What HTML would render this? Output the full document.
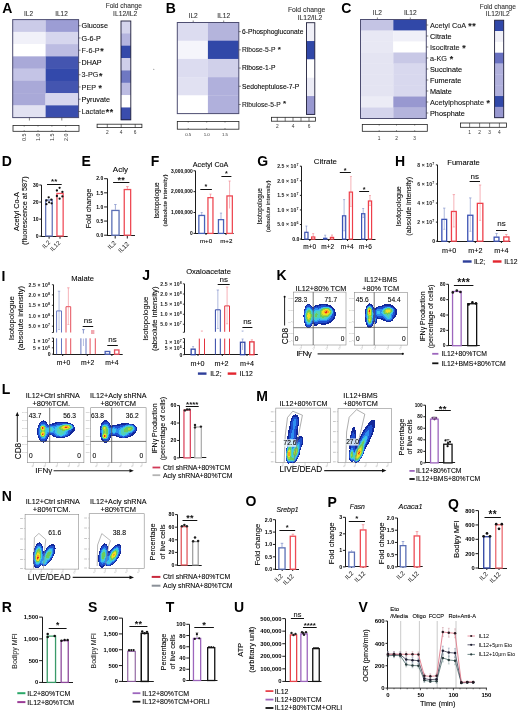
<!DOCTYPE html><html><head><meta charset="utf-8"><title>Figure</title><style>html,body{margin:0;padding:0;background:#fff;width:520px;height:713px;overflow:hidden}svg{display:block}text{font-family:"Liberation Sans",Arial,Helvetica,sans-serif}</style></head><body>
<svg width="520" height="713" viewBox="0 0 520 713">
<defs><filter id="fb" x="-20%" y="-20%" width="140%" height="140%"><feGaussianBlur stdDeviation="0.6"/></filter><filter id="jet" x="-30%" y="-30%" width="160%" height="160%" color-interpolation-filters="sRGB"><feGaussianBlur in="SourceAlpha" stdDeviation="0.7" result="b"/><feColorMatrix in="b" type="matrix" values="0 0 0 1 0  0 0 0 1 0  0 0 0 1 0  0 0 0 1 0" result="g"/><feComponentTransfer in="g" result="c"><feFuncR type="discrete" tableValues="0 0 0 0 0.078 0.078 0.078 0.078 0.122 0.122 0.122 0.122 0.122 0.180 0.180 0.180 0.180 0.235 0.235 0.235 0.235 0.322 0.322 0.322 0.322 0.424 0.424 0.424 0.424 0.424 0.424 0.667 0.667 0.667 0.667 0.667 0.949 0.949 0.949 0.949 0.949 0.949 0.973 0.973 0.973 0.973 0.910 0.910 0.910 0.910"/><feFuncG type="discrete" tableValues="0 0 0 0 0.157 0.157 0.157 0.157 0.314 0.314 0.314 0.314 0.314 0.557 0.557 0.557 0.557 0.769 0.769 0.769 0.769 0.824 0.824 0.824 0.824 0.800 0.800 0.800 0.800 0.800 0.800 0.847 0.847 0.847 0.847 0.847 0.878 0.878 0.878 0.878 0.878 0.878 0.643 0.643 0.643 0.643 0.165 0.165 0.165 0.165"/><feFuncB type="discrete" tableValues="0 0 0 0 0.604 0.604 0.604 0.604 0.816 0.816 0.816 0.816 0.816 0.941 0.941 0.941 0.941 0.933 0.933 0.933 0.933 0.706 0.706 0.706 0.706 0.361 0.361 0.361 0.361 0.361 0.361 0.227 0.227 0.227 0.227 0.227 0.133 0.133 0.133 0.133 0.133 0.133 0.133 0.133 0.133 0.133 0.102 0.102 0.102 0.102"/><feFuncA type="discrete" tableValues="0 0 0 0 1 1 1 1 1 1 1 1 1 1 1 1 1 1 1 1 1 1 1 1 1 1 1 1 1 1 1 1 1 1 1 1 1 1 1 1 1 1 1 1 1 1 1 1 1 1"/></feComponentTransfer><feGaussianBlur in="c" stdDeviation="0.35"/></filter><radialGradient id="gd"><stop offset="0" stop-color="#000" stop-opacity="1"/><stop offset="0.2" stop-color="#000" stop-opacity="0.906"/><stop offset="0.4" stop-color="#000" stop-opacity="0.674"/><stop offset="0.6" stop-color="#000" stop-opacity="0.411"/><stop offset="0.8" stop-color="#000" stop-opacity="0.206"/><stop offset="1" stop-color="#000" stop-opacity="0.0"/></radialGradient></defs>
<rect width="520" height="713" fill="#fff"/>
<text x="2.3" y="12.9" font-size="14" font-weight="bold" fill="#000">A</text>
<text x="28.5" y="16.47" font-size="6.4" text-anchor="middle" fill="#333" stroke="#333" stroke-width="0.1">IL2</text>
<text x="61.5" y="16.47" font-size="6.4" text-anchor="middle" fill="#333" stroke="#333" stroke-width="0.1">IL12</text>
<rect x="12.7" y="19.6" width="32.9" height="12.55" fill="#cbcbe8"/>
<rect x="45.6" y="19.6" width="33" height="12.55" fill="#9c9dd4"/>
<rect x="12.7" y="31.85" width="32.9" height="12.55" fill="#f1f1f9"/>
<rect x="45.6" y="31.85" width="33" height="12.55" fill="#d6d6ee"/>
<rect x="12.7" y="44.1" width="32.9" height="12.55" fill="#ffffff"/>
<rect x="45.6" y="44.1" width="33" height="12.55" fill="#bcbce2"/>
<rect x="12.7" y="56.35" width="32.9" height="12.55" fill="#a9a9d8"/>
<rect x="45.6" y="56.35" width="33" height="12.55" fill="#4455b0"/>
<rect x="12.7" y="68.6" width="32.9" height="12.55" fill="#c4c4e6"/>
<rect x="45.6" y="68.6" width="33" height="12.55" fill="#3349ab"/>
<rect x="12.7" y="80.85" width="32.9" height="12.55" fill="#a9a9d8"/>
<rect x="45.6" y="80.85" width="33" height="12.55" fill="#4455b0"/>
<rect x="12.7" y="93.1" width="32.9" height="12.55" fill="#a9a9d8"/>
<rect x="45.6" y="93.1" width="33" height="12.55" fill="#d6d6ee"/>
<rect x="12.7" y="105.35" width="32.9" height="12.55" fill="#e2e2f2"/>
<rect x="45.6" y="105.35" width="33" height="12.55" fill="#3a4dad"/>
<rect x="12.7" y="19.6" width="65.9" height="98" fill="none" stroke="#4e4e72" stroke-width="1"/>
<line x1="29.4" y1="117.6" x2="29.4" y2="120.5" stroke="#333" stroke-width="0.6"/>
<line x1="61.8" y1="117.6" x2="61.8" y2="120.5" stroke="#333" stroke-width="0.6"/>
<line x1="78.6" y1="25.73" x2="80.6" y2="25.73" stroke="#333" stroke-width="0.6"/>
<text x="81.6" y="28.28" font-size="7.2" stroke="#1a1a1a" stroke-width="0.1">Glucose</text>
<line x1="78.6" y1="37.98" x2="80.6" y2="37.98" stroke="#333" stroke-width="0.6"/>
<text x="81.6" y="40.53" font-size="7.2" stroke="#1a1a1a" stroke-width="0.1">G-6-P</text>
<line x1="78.6" y1="50.23" x2="80.6" y2="50.23" stroke="#333" stroke-width="0.6"/>
<text x="81.6" y="52.78" font-size="7.2" fill="#1a1a1a" stroke="#1a1a1a" stroke-width="0.1">F-6-P<tspan font-weight="bold" font-size="8.64" dy="1.3" dx="0.6" letter-spacing="0.6">*</tspan></text>
<line x1="78.6" y1="62.48" x2="80.6" y2="62.48" stroke="#333" stroke-width="0.6"/>
<text x="81.6" y="65.03" font-size="7.2" stroke="#1a1a1a" stroke-width="0.1">DHAP</text>
<line x1="78.6" y1="74.72" x2="80.6" y2="74.72" stroke="#333" stroke-width="0.6"/>
<text x="81.6" y="77.28" font-size="7.2" fill="#1a1a1a" stroke="#1a1a1a" stroke-width="0.1">3-PG<tspan font-weight="bold" font-size="8.64" dy="1.3" dx="0.6" letter-spacing="0.6">*</tspan></text>
<line x1="78.6" y1="86.97" x2="80.6" y2="86.97" stroke="#333" stroke-width="0.6"/>
<text x="81.6" y="89.53" font-size="7.2" fill="#1a1a1a" stroke="#1a1a1a" stroke-width="0.1">PEP <tspan font-weight="bold" font-size="8.64" dy="1.3" dx="0.6" letter-spacing="0.6">*</tspan></text>
<line x1="78.6" y1="99.22" x2="80.6" y2="99.22" stroke="#333" stroke-width="0.6"/>
<text x="81.6" y="101.78" font-size="7.2" stroke="#1a1a1a" stroke-width="0.1">Pyruvate</text>
<line x1="78.6" y1="111.47" x2="80.6" y2="111.47" stroke="#333" stroke-width="0.6"/>
<text x="81.6" y="114.03" font-size="7.2" fill="#1a1a1a" stroke="#1a1a1a" stroke-width="0.1">Lactate<tspan font-weight="bold" font-size="8.64" dy="1.3" dx="0.6" letter-spacing="0.6">**</tspan></text>
<text x="123.8" y="7.94" font-size="6.6" text-anchor="middle" fill="#333" stroke="#333" stroke-width="0.1">Fold change</text>
<text x="125.2" y="16.18" font-size="6.7" text-anchor="middle" fill="#333" stroke="#333" stroke-width="0.1">IL12/IL2</text>
<rect x="121" y="21" width="9.8" height="12.65" fill="#d4d4ec"/>
<rect x="121" y="33.35" width="9.8" height="12.65" fill="#b4b4de"/>
<rect x="121" y="45.7" width="9.8" height="12.65" fill="#3449a9"/>
<rect x="121" y="58.05" width="9.8" height="12.65" fill="#cfcfea"/>
<rect x="121" y="70.4" width="9.8" height="12.65" fill="#6f78c2"/>
<rect x="121" y="82.75" width="9.8" height="12.65" fill="#bcbce2"/>
<rect x="121" y="95.1" width="9.8" height="12.65" fill="#ffffff"/>
<rect x="121" y="107.45" width="9.8" height="12.65" fill="#3a4dad"/>
<rect x="121" y="21" width="9.8" height="98.8" fill="none" stroke="#1e1e3a" stroke-width="0.9"/>
<rect x="13" y="125.4" width="66" height="5.9" fill="#fff" stroke="#222" stroke-width="0.8"/>
<line x1="24.2" y1="125.4" x2="24.2" y2="126.6" stroke="#222" stroke-width="0.5"/>
<line x1="24.2" y1="130.1" x2="24.2" y2="131.3" stroke="#222" stroke-width="0.5"/>
<line x1="38" y1="125.4" x2="38" y2="126.6" stroke="#222" stroke-width="0.5"/>
<line x1="38" y1="130.1" x2="38" y2="131.3" stroke="#222" stroke-width="0.5"/>
<line x1="51.9" y1="125.4" x2="51.9" y2="126.6" stroke="#222" stroke-width="0.5"/>
<line x1="51.9" y1="130.1" x2="51.9" y2="131.3" stroke="#222" stroke-width="0.5"/>
<line x1="65.7" y1="125.4" x2="65.7" y2="126.6" stroke="#222" stroke-width="0.5"/>
<line x1="65.7" y1="130.1" x2="65.7" y2="131.3" stroke="#222" stroke-width="0.5"/>
<text x="26.099999999999998" y="133.6" font-size="5.4" text-anchor="end" fill="#333" transform="rotate(-90 26.099999999999998 133.6)">0.5</text>
<text x="39.9" y="133.6" font-size="5.4" text-anchor="end" fill="#333" transform="rotate(-90 39.9 133.6)">1.0</text>
<text x="53.8" y="133.6" font-size="5.4" text-anchor="end" fill="#333" transform="rotate(-90 53.8 133.6)">1.5</text>
<text x="67.60000000000001" y="133.6" font-size="5.4" text-anchor="end" fill="#333" transform="rotate(-90 67.60000000000001 133.6)">2.0</text>
<rect x="97.1" y="124.2" width="44.8" height="3.4" fill="#fff" stroke="#222" stroke-width="0.8"/>
<line x1="107.3" y1="124.2" x2="107.3" y2="127.6" stroke="#222" stroke-width="0.6"/>
<line x1="121.2" y1="124.2" x2="121.2" y2="127.6" stroke="#222" stroke-width="0.6"/>
<line x1="135.2" y1="124.2" x2="135.2" y2="127.6" stroke="#222" stroke-width="0.6"/>
<text x="107.3" y="134" font-size="4.8" text-anchor="middle" fill="#333">2</text>
<text x="121.2" y="134" font-size="4.8" text-anchor="middle" fill="#333">4</text>
<text x="135.2" y="134" font-size="4.8" text-anchor="middle" fill="#333">6</text>
<circle cx="153.8" cy="69.2" r="0.5" fill="#666"/>
<text x="165.8" y="12.6" font-size="14" font-weight="bold" fill="#000">B</text>
<text x="193.2" y="18.14" font-size="6.6" text-anchor="middle" fill="#333" stroke="#333" stroke-width="0.1">IL2</text>
<text x="223.7" y="18.14" font-size="6.6" text-anchor="middle" fill="#333" stroke="#333" stroke-width="0.1">IL12</text>
<line x1="193.2" y1="20.5" x2="193.2" y2="22.5" stroke="#333" stroke-width="0.6"/>
<line x1="223.7" y1="20.5" x2="223.7" y2="22.5" stroke="#333" stroke-width="0.6"/>
<rect x="177.3" y="22.5" width="30.6" height="18.52" fill="#dcdcf0"/>
<rect x="207.9" y="22.5" width="30.9" height="18.52" fill="#b4b4dc"/>
<rect x="177.3" y="40.72" width="30.6" height="18.52" fill="#f5f5fb"/>
<rect x="207.9" y="40.72" width="30.9" height="18.52" fill="#3148a8"/>
<rect x="177.3" y="58.94" width="30.6" height="18.52" fill="#dcdcf0"/>
<rect x="207.9" y="58.94" width="30.9" height="18.52" fill="#d0d0ea"/>
<rect x="177.3" y="77.16" width="30.6" height="18.52" fill="#e1e1f2"/>
<rect x="207.9" y="77.16" width="30.9" height="18.52" fill="#b0b0dc"/>
<rect x="177.3" y="95.38" width="30.6" height="18.52" fill="#ffffff"/>
<rect x="207.9" y="95.38" width="30.9" height="18.52" fill="#b0b0dc"/>
<rect x="177.3" y="22.5" width="61.5" height="91.1" fill="none" stroke="#4e4e72" stroke-width="1"/>
<line x1="238.8" y1="31.61" x2="240.8" y2="31.61" stroke="#333" stroke-width="0.6"/>
<text x="242" y="33.99" font-size="6.7" stroke="#1a1a1a" stroke-width="0.1">6-Phosphogluconate</text>
<line x1="238.8" y1="49.83" x2="240.8" y2="49.83" stroke="#333" stroke-width="0.6"/>
<text x="242" y="52.21" font-size="6.7" fill="#1a1a1a" stroke="#1a1a1a" stroke-width="0.1">Ribose-5-P <tspan font-weight="bold" font-size="8.04" dy="-0.6" dx="0.6" letter-spacing="0.6">*</tspan></text>
<line x1="238.8" y1="68.05" x2="240.8" y2="68.05" stroke="#333" stroke-width="0.6"/>
<text x="242" y="70.43" font-size="6.7" stroke="#1a1a1a" stroke-width="0.1">Ribose-1-P</text>
<line x1="238.8" y1="86.27" x2="240.8" y2="86.27" stroke="#333" stroke-width="0.6"/>
<text x="242" y="88.65" font-size="6.7" stroke="#1a1a1a" stroke-width="0.1">Sedoheptulose-7-P</text>
<line x1="238.8" y1="104.49" x2="240.8" y2="104.49" stroke="#333" stroke-width="0.6"/>
<text x="242" y="106.87" font-size="6.7" fill="#1a1a1a" stroke="#1a1a1a" stroke-width="0.1">Ribulose-5-P <tspan font-weight="bold" font-size="8.04" dy="-0.6" dx="0.6" letter-spacing="0.6">*</tspan></text>
<text x="306.6" y="11.61" font-size="6.8" text-anchor="middle" fill="#333" stroke="#333" stroke-width="0.1">Fold change</text>
<text x="310" y="20.11" font-size="6.8" text-anchor="middle" fill="#333" stroke="#333" stroke-width="0.1">IL12/IL2</text>
<rect x="306.5" y="22.7" width="8.3" height="18.64" fill="#f0f0f8"/>
<rect x="306.5" y="41.04" width="8.3" height="18.64" fill="#3148a8"/>
<rect x="306.5" y="59.38" width="8.3" height="18.64" fill="#ffffff"/>
<rect x="306.5" y="77.72" width="8.3" height="18.64" fill="#ececf6"/>
<rect x="306.5" y="96.06" width="8.3" height="18.64" fill="#9898d0"/>
<rect x="306.5" y="22.7" width="8.3" height="91.7" fill="none" stroke="#1e1e3a" stroke-width="0.9"/>
<rect x="177.3" y="121.4" width="61.6" height="7.8" fill="#fff" stroke="#222" stroke-width="0.8"/>
<line x1="188.2" y1="121.4" x2="188.2" y2="122.6" stroke="#222" stroke-width="0.5"/>
<line x1="188.2" y1="128" x2="188.2" y2="129.2" stroke="#222" stroke-width="0.5"/>
<line x1="206.7" y1="121.4" x2="206.7" y2="122.6" stroke="#222" stroke-width="0.5"/>
<line x1="206.7" y1="128" x2="206.7" y2="129.2" stroke="#222" stroke-width="0.5"/>
<line x1="225" y1="121.4" x2="225" y2="122.6" stroke="#222" stroke-width="0.5"/>
<line x1="225" y1="128" x2="225" y2="129.2" stroke="#222" stroke-width="0.5"/>
<text x="188.2" y="136.26" font-size="4.4" text-anchor="middle" fill="#333">0.5</text>
<text x="206.7" y="136.26" font-size="4.4" text-anchor="middle" fill="#333">1.0</text>
<text x="225" y="136.26" font-size="4.4" text-anchor="middle" fill="#333">1.5</text>
<rect x="271.5" y="117.3" width="43.9" height="3.9" fill="#fff" stroke="#222" stroke-width="0.8"/>
<line x1="277.3" y1="117.3" x2="277.3" y2="121.2" stroke="#222" stroke-width="0.6"/>
<line x1="285.2" y1="117.3" x2="285.2" y2="121.2" stroke="#222" stroke-width="0.6"/>
<line x1="293" y1="117.3" x2="293" y2="121.2" stroke="#222" stroke-width="0.6"/>
<line x1="301" y1="117.3" x2="301" y2="121.2" stroke="#222" stroke-width="0.6"/>
<line x1="309" y1="117.3" x2="309" y2="121.2" stroke="#222" stroke-width="0.6"/>
<text x="277.3" y="127.5" font-size="4.8" text-anchor="middle" fill="#333">2</text>
<text x="293" y="127.5" font-size="4.8" text-anchor="middle" fill="#333">4</text>
<text x="309" y="127.5" font-size="4.8" text-anchor="middle" fill="#333">6</text>
<text x="341.3" y="13.4" font-size="14" font-weight="bold" fill="#000">C</text>
<text x="377.4" y="15.34" font-size="6.6" text-anchor="middle" fill="#333" stroke="#333" stroke-width="0.1">IL2</text>
<text x="410.3" y="15.34" font-size="6.6" text-anchor="middle" fill="#333" stroke="#333" stroke-width="0.1">IL12</text>
<line x1="377.4" y1="17.5" x2="377.4" y2="19.5" stroke="#333" stroke-width="0.6"/>
<line x1="410.3" y1="17.5" x2="410.3" y2="19.5" stroke="#333" stroke-width="0.6"/>
<rect x="360.5" y="19.5" width="32.8" height="11.3" fill="#c4c4e4"/>
<rect x="393.3" y="19.5" width="33" height="11.3" fill="#3148a8"/>
<rect x="360.5" y="30.5" width="32.8" height="11.3" fill="#e8e8f4"/>
<rect x="393.3" y="30.5" width="33" height="11.3" fill="#f0f0f8"/>
<rect x="360.5" y="41.5" width="32.8" height="11.3" fill="#e8e8f4"/>
<rect x="393.3" y="41.5" width="33" height="11.3" fill="#ffffff"/>
<rect x="360.5" y="52.5" width="32.8" height="11.3" fill="#e4e4f2"/>
<rect x="393.3" y="52.5" width="33" height="11.3" fill="#c8c8e6"/>
<rect x="360.5" y="63.5" width="32.8" height="11.3" fill="#e4e4f2"/>
<rect x="393.3" y="63.5" width="33" height="11.3" fill="#d8d8ee"/>
<rect x="360.5" y="74.5" width="32.8" height="11.3" fill="#e4e4f2"/>
<rect x="393.3" y="74.5" width="33" height="11.3" fill="#d8d8ee"/>
<rect x="360.5" y="85.5" width="32.8" height="11.3" fill="#e4e4f2"/>
<rect x="393.3" y="85.5" width="33" height="11.3" fill="#d8d8ee"/>
<rect x="360.5" y="96.5" width="32.8" height="11.3" fill="#ececf6"/>
<rect x="393.3" y="96.5" width="33" height="11.3" fill="#9898d0"/>
<rect x="360.5" y="107.5" width="32.8" height="11.3" fill="#d4d4ec"/>
<rect x="393.3" y="107.5" width="33" height="11.3" fill="#b4b4dc"/>
<rect x="360.5" y="19.5" width="65.8" height="99" fill="none" stroke="#4e4e72" stroke-width="1"/>
<line x1="426.3" y1="25" x2="428.3" y2="25" stroke="#333" stroke-width="0.6"/>
<text x="430" y="27.59" font-size="7.3" fill="#1a1a1a" stroke="#1a1a1a" stroke-width="0.1">Acetyl CoA <tspan font-weight="bold" font-size="8.76" dy="1.1" dx="0.6" letter-spacing="0.6">**</tspan></text>
<line x1="426.3" y1="36" x2="428.3" y2="36" stroke="#333" stroke-width="0.6"/>
<text x="430" y="38.59" font-size="7.3" stroke="#1a1a1a" stroke-width="0.1">Citrate</text>
<line x1="426.3" y1="47" x2="428.3" y2="47" stroke="#333" stroke-width="0.6"/>
<text x="430" y="49.59" font-size="7.3" fill="#1a1a1a" stroke="#1a1a1a" stroke-width="0.1">Isocitrate <tspan font-weight="bold" font-size="8.76" dy="1.1" dx="0.6" letter-spacing="0.6">*</tspan></text>
<line x1="426.3" y1="58" x2="428.3" y2="58" stroke="#333" stroke-width="0.6"/>
<text x="430" y="60.59" font-size="7.3" fill="#1a1a1a" stroke="#1a1a1a" stroke-width="0.1">a-KG <tspan font-weight="bold" font-size="8.76" dy="1.1" dx="0.6" letter-spacing="0.6">*</tspan></text>
<line x1="426.3" y1="69" x2="428.3" y2="69" stroke="#333" stroke-width="0.6"/>
<text x="430" y="71.59" font-size="7.3" stroke="#1a1a1a" stroke-width="0.1">Succinate</text>
<line x1="426.3" y1="80" x2="428.3" y2="80" stroke="#333" stroke-width="0.6"/>
<text x="430" y="82.59" font-size="7.3" stroke="#1a1a1a" stroke-width="0.1">Fumerate</text>
<line x1="426.3" y1="91" x2="428.3" y2="91" stroke="#333" stroke-width="0.6"/>
<text x="430" y="93.59" font-size="7.3" stroke="#1a1a1a" stroke-width="0.1">Malate</text>
<line x1="426.3" y1="102" x2="428.3" y2="102" stroke="#333" stroke-width="0.6"/>
<text x="430" y="104.59" font-size="7.3" fill="#1a1a1a" stroke="#1a1a1a" stroke-width="0.1">Acetylphosphate <tspan font-weight="bold" font-size="8.76" dy="1.1" dx="0.6" letter-spacing="0.6">*</tspan></text>
<line x1="426.3" y1="113" x2="428.3" y2="113" stroke="#333" stroke-width="0.6"/>
<text x="430" y="115.59" font-size="7.3" stroke="#1a1a1a" stroke-width="0.1">Phosphate</text>
<text x="497.8" y="8.54" font-size="6.6" text-anchor="middle" fill="#333" stroke="#333" stroke-width="0.1">Fold change</text>
<text x="497.7" y="16.34" font-size="6.6" text-anchor="middle" fill="#333" stroke="#333" stroke-width="0.1">IL12/IL2</text>
<rect x="494.6" y="20.2" width="9.1" height="11.13" fill="#3148a8"/>
<rect x="494.6" y="31.03" width="9.1" height="11.13" fill="#f0f0f8"/>
<rect x="494.6" y="41.87" width="9.1" height="11.13" fill="#ffffff"/>
<rect x="494.6" y="52.7" width="9.1" height="11.13" fill="#6870c0"/>
<rect x="494.6" y="63.53" width="9.1" height="11.13" fill="#b0b0dc"/>
<rect x="494.6" y="74.37" width="9.1" height="11.13" fill="#b0b0dc"/>
<rect x="494.6" y="85.2" width="9.1" height="11.13" fill="#b0b0dc"/>
<rect x="494.6" y="96.03" width="9.1" height="11.13" fill="#3148a8"/>
<rect x="494.6" y="106.87" width="9.1" height="11.13" fill="#9898d0"/>
<rect x="494.6" y="20.2" width="9.1" height="97.5" fill="none" stroke="#1e1e3a" stroke-width="0.9"/>
<rect x="362.3" y="124.4" width="65" height="6.9" fill="#fff" stroke="#222" stroke-width="0.8"/>
<line x1="379.2" y1="124.4" x2="379.2" y2="125.6" stroke="#222" stroke-width="0.5"/>
<line x1="379.2" y1="130.1" x2="379.2" y2="131.3" stroke="#222" stroke-width="0.5"/>
<line x1="396.5" y1="124.4" x2="396.5" y2="125.6" stroke="#222" stroke-width="0.5"/>
<line x1="396.5" y1="130.1" x2="396.5" y2="131.3" stroke="#222" stroke-width="0.5"/>
<line x1="414.7" y1="124.4" x2="414.7" y2="125.6" stroke="#222" stroke-width="0.5"/>
<line x1="414.7" y1="130.1" x2="414.7" y2="131.3" stroke="#222" stroke-width="0.5"/>
<text x="379.2" y="139.6" font-size="4.8" text-anchor="middle" fill="#333">1</text>
<text x="396.5" y="139.6" font-size="4.8" text-anchor="middle" fill="#333">2</text>
<text x="414.7" y="139.6" font-size="4.8" text-anchor="middle" fill="#333">3</text>
<rect x="460.4" y="123" width="46.1" height="4.3" fill="#fff" stroke="#222" stroke-width="0.8"/>
<line x1="469.6" y1="123" x2="469.6" y2="127.3" stroke="#222" stroke-width="0.6"/>
<line x1="479.6" y1="123" x2="479.6" y2="127.3" stroke="#222" stroke-width="0.6"/>
<line x1="489.6" y1="123" x2="489.6" y2="127.3" stroke="#222" stroke-width="0.6"/>
<line x1="499.4" y1="123" x2="499.4" y2="127.3" stroke="#222" stroke-width="0.6"/>
<text x="469.6" y="133.7" font-size="4.8" text-anchor="middle" fill="#333">1</text>
<text x="479.6" y="133.7" font-size="4.8" text-anchor="middle" fill="#333">2</text>
<text x="489.6" y="133.7" font-size="4.8" text-anchor="middle" fill="#333">3</text>
<text x="499.4" y="133.7" font-size="4.8" text-anchor="middle" fill="#333">4</text>
<text x="1.8" y="166" font-size="14" font-weight="bold" fill="#000">D</text>
<line x1="41.5" y1="185" x2="41.5" y2="236" stroke="#1c1c1c" stroke-width="1"/>
<line x1="39.3" y1="185" x2="41.5" y2="185" stroke="#1c1c1c" stroke-width="1"/>
<text x="38.5" y="186.78" font-size="5" text-anchor="end" font-weight="bold">30</text>
<line x1="39.3" y1="202.07" x2="41.5" y2="202.07" stroke="#1c1c1c" stroke-width="1"/>
<text x="38.5" y="203.84" font-size="5" text-anchor="end" font-weight="bold">20</text>
<line x1="39.3" y1="219.13" x2="41.5" y2="219.13" stroke="#1c1c1c" stroke-width="1"/>
<text x="38.5" y="220.91" font-size="5" text-anchor="end" font-weight="bold">10</text>
<line x1="39.3" y1="236.2" x2="41.5" y2="236.2" stroke="#1c1c1c" stroke-width="1"/>
<text x="38.5" y="237.97" font-size="5" text-anchor="end" font-weight="bold">0</text>
<line x1="41" y1="236.5" x2="67.7" y2="236.5" stroke="#1c1c1c" stroke-width="1"/>
<line x1="49.1" y1="236.5" x2="49.1" y2="238.7" stroke="#1c1c1c" stroke-width="1"/>
<line x1="60" y1="236.5" x2="60" y2="238.7" stroke="#1c1c1c" stroke-width="1"/>
<rect x="45.65" y="200.05" width="6.6" height="35.95" fill="#fff" stroke="#6676b8" stroke-width="1.3"/>
<rect x="56.95" y="193.45" width="6.2" height="42.55" fill="#fff" stroke="#f04f5c" stroke-width="1.3"/>
<circle cx="48.7" cy="197.3" r="1.15" fill="#111"/>
<circle cx="46.4" cy="200.5" r="1.15" fill="#111"/>
<circle cx="51.4" cy="199.6" r="1.15" fill="#111"/>
<circle cx="46.4" cy="204.2" r="1.15" fill="#111"/>
<circle cx="51.6" cy="203.3" r="1.15" fill="#111"/>
<circle cx="49.1" cy="202.3" r="1.15" fill="#111"/>
<circle cx="59.6" cy="187.8" r="1.15" fill="#111"/>
<circle cx="56.9" cy="190.5" r="1.15" fill="#111"/>
<circle cx="62.4" cy="191.9" r="1.15" fill="#111"/>
<circle cx="56.9" cy="196" r="1.15" fill="#111"/>
<circle cx="62.4" cy="196.4" r="1.15" fill="#111"/>
<circle cx="59.6" cy="198.7" r="1.15" fill="#111"/>
<line x1="47" y1="184.5" x2="61.7" y2="184.5" stroke="#111" stroke-width="1"/>
<text x="54.35" y="184.16" font-size="7.8" text-anchor="middle" font-weight="bold" fill="#111" letter-spacing="0.2">**</text>
<text x="16.4" y="214.13" font-size="7.4" text-anchor="middle" stroke="#1a1a1a" stroke-width="0.1" transform="rotate(-90 16.4 211.5)">Acetyl Co-A</text>
<text x="24.6" y="213.29" font-size="7.3" text-anchor="middle" stroke="#1a1a1a" stroke-width="0.1" transform="rotate(-90 24.6 210.7)">(fluorescence at 587)</text>
<text x="50.6" y="242.8" font-size="6.2" text-anchor="end" transform="rotate(-45 50.6 242.8)" fill="#1a1a1a">IL2</text>
<text x="61" y="243.2" font-size="6.2" text-anchor="end" transform="rotate(-45 61 243.2)" fill="#1a1a1a">IL12</text>
<text x="81.5" y="166" font-size="14" font-weight="bold" fill="#000">E</text>
<text x="120.4" y="172.04" font-size="8" text-anchor="middle" stroke="#1a1a1a" stroke-width="0.1">Acly</text>
<line x1="107.5" y1="178.7" x2="107.5" y2="235.4" stroke="#1c1c1c" stroke-width="1"/>
<line x1="104.1" y1="178.7" x2="107.5" y2="178.7" stroke="#1c1c1c" stroke-width="1"/>
<text x="103.3" y="180.47" font-size="5" text-anchor="end" font-weight="bold">2.0</text>
<line x1="104.1" y1="192.82" x2="107.5" y2="192.82" stroke="#1c1c1c" stroke-width="1"/>
<text x="103.3" y="194.6" font-size="5" text-anchor="end" font-weight="bold">1.5</text>
<line x1="104.1" y1="206.95" x2="107.5" y2="206.95" stroke="#1c1c1c" stroke-width="1"/>
<text x="103.3" y="208.72" font-size="5" text-anchor="end" font-weight="bold">1.0</text>
<line x1="104.1" y1="221.07" x2="107.5" y2="221.07" stroke="#1c1c1c" stroke-width="1"/>
<text x="103.3" y="222.85" font-size="5" text-anchor="end" font-weight="bold">0.5</text>
<line x1="104.1" y1="235.2" x2="107.5" y2="235.2" stroke="#1c1c1c" stroke-width="1"/>
<text x="103.3" y="236.97" font-size="5" text-anchor="end" font-weight="bold">0.0</text>
<line x1="107" y1="235.5" x2="135" y2="235.5" stroke="#1c1c1c" stroke-width="1"/>
<line x1="115.2" y1="235.5" x2="115.2" y2="238.5" stroke="#1c1c1c" stroke-width="1"/>
<line x1="127.3" y1="235.5" x2="127.3" y2="238.5" stroke="#1c1c1c" stroke-width="1"/>
<g stroke="#6a7cc0" stroke-width="0.7" opacity="0.9"><line x1="115.4" y1="204.4" x2="115.4" y2="209.8"/><line x1="114.1" y1="204.4" x2="116.7" y2="204.4"/></g>
<g stroke="#ec6f78" stroke-width="0.7" opacity="0.9"><line x1="127.4" y1="186.6" x2="127.4" y2="188.9"/><line x1="126.1" y1="186.6" x2="128.7" y2="186.6"/></g>
<rect x="111.85" y="210.45" width="7.2" height="24.75" fill="#fff" stroke="#5b6fb5" stroke-width="1.3"/>
<rect x="124.25" y="189.55" width="6.4" height="45.65" fill="#fff" stroke="#ee4b55" stroke-width="1.3"/>
<line x1="113.1" y1="182.5" x2="129.4" y2="182.5" stroke="#111" stroke-width="1"/>
<text x="121.25" y="183.36" font-size="9" text-anchor="middle" font-weight="bold" fill="#111" letter-spacing="0.2">**</text>
<text x="88.3" y="211.06" font-size="7.2" text-anchor="middle" stroke="#1a1a1a" stroke-width="0.1" transform="rotate(-90 88.3 208.5)">Fold change</text>
<text x="116.6" y="243.4" font-size="6.4" text-anchor="end" transform="rotate(-45 116.6 243.4)" fill="#1a1a1a">IL2</text>
<text x="129.6" y="244.4" font-size="6.4" text-anchor="end" transform="rotate(-45 129.6 244.4)" fill="#1a1a1a">IL12</text>
<text x="150.8" y="166" font-size="14" font-weight="bold" fill="#000">F</text>
<text x="210.6" y="166.96" font-size="7.2" text-anchor="middle" stroke="#1a1a1a" stroke-width="0.1">Acetyl CoA</text>
<line x1="195.5" y1="170.8" x2="195.5" y2="233.4" stroke="#1c1c1c" stroke-width="1"/>
<line x1="193.5" y1="170.8" x2="195.5" y2="170.8" stroke="#1c1c1c" stroke-width="1"/>
<text x="192.7" y="172.54" font-size="4.9" text-anchor="end" font-weight="bold">3,000,000</text>
<line x1="193.5" y1="191.67" x2="195.5" y2="191.67" stroke="#1c1c1c" stroke-width="1"/>
<text x="192.7" y="193.41" font-size="4.9" text-anchor="end" font-weight="bold">2,000,000</text>
<line x1="193.5" y1="212.53" x2="195.5" y2="212.53" stroke="#1c1c1c" stroke-width="1"/>
<text x="192.7" y="214.27" font-size="4.9" text-anchor="end" font-weight="bold">1,000,000</text>
<line x1="193.5" y1="233.4" x2="195.5" y2="233.4" stroke="#1c1c1c" stroke-width="1"/>
<text x="192.7" y="235.14" font-size="4.9" text-anchor="end" font-weight="bold">0</text>
<line x1="195" y1="233.5" x2="233.6" y2="233.5" stroke="#1c1c1c" stroke-width="1"/>
<line x1="206" y1="233.5" x2="206" y2="235" stroke="#1c1c1c" stroke-width="1"/>
<line x1="226" y1="233.5" x2="226" y2="235" stroke="#1c1c1c" stroke-width="1"/>
<g stroke="#6a7cc0" stroke-width="0.6" opacity="0.9"><line x1="201.7" y1="212.3" x2="201.7" y2="217"/><line x1="200.6" y1="212.3" x2="202.8" y2="212.3"/></g>
<g stroke="#ec6f78" stroke-width="0.6" opacity="0.9"><line x1="210.5" y1="194.1" x2="210.5" y2="197"/><line x1="209.4" y1="194.1" x2="211.6" y2="194.1"/></g>
<g stroke="#6a7cc0" stroke-width="0.6" opacity="0.9"><line x1="221" y1="213.1" x2="221" y2="224"/><line x1="219.9" y1="213.1" x2="222.1" y2="213.1"/></g>
<g stroke="#ec6f78" stroke-width="0.6" opacity="0.9"><line x1="229.6" y1="181" x2="229.6" y2="208.5"/><line x1="228.5" y1="181" x2="230.7" y2="181"/></g>
<rect x="198.85" y="215.45" width="5.7" height="17.95" fill="#fff" stroke="#4a63b8" stroke-width="1.3"/>
<rect x="207.95" y="197.65" width="5" height="35.75" fill="#fff" stroke="#ee4b55" stroke-width="1.3"/>
<rect x="218.45" y="219.65" width="5.1" height="13.75" fill="#fff" stroke="#4a63b8" stroke-width="1.3"/>
<rect x="226.95" y="195.95" width="5.4" height="37.45" fill="#fff" stroke="#ee4b55" stroke-width="1.3"/>
<g stroke="#ec6f78" stroke-width="0.6" opacity="0.9"><line x1="229.6" y1="195.3" x2="229.6" y2="208.5"/><line x1="228.5" y1="195.3" x2="230.7" y2="195.3"/></g>
<line x1="200.3" y1="189.5" x2="211.9" y2="189.5" stroke="#111" stroke-width="1"/>
<text x="206.1" y="188.81" font-size="7.2" text-anchor="middle" font-weight="bold" fill="#111" letter-spacing="0.2">*</text>
<line x1="221.4" y1="176.5" x2="231.4" y2="176.5" stroke="#111" stroke-width="1"/>
<text x="226.4" y="176.31" font-size="7.2" text-anchor="middle" font-weight="bold" fill="#111" letter-spacing="0.2">*</text>
<text x="206" y="242.8" font-size="6.2" text-anchor="middle" stroke="#1a1a1a" stroke-width="0.1">m+0</text>
<text x="226.3" y="242.8" font-size="6.2" text-anchor="middle" stroke="#1a1a1a" stroke-width="0.1">m+2</text>
<text x="156.6" y="202.74" font-size="6.3" text-anchor="middle" stroke="#1a1a1a" stroke-width="0.1" transform="rotate(-90 156.6 200.5)">Isotopologue</text>
<text x="165.2" y="202.7" font-size="6.2" text-anchor="middle" stroke="#1a1a1a" stroke-width="0.1" transform="rotate(-90 165.2 200.5)">(absolute intensity)</text>
<text x="257.3" y="166" font-size="14" font-weight="bold" fill="#000">G</text>
<text x="325.4" y="164.3" font-size="7.9" text-anchor="middle" stroke="#1a1a1a" stroke-width="0.1">Citrate</text>
<line x1="301.5" y1="166.2" x2="301.5" y2="239.1" stroke="#1c1c1c" stroke-width="1"/>
<line x1="299.9" y1="166.2" x2="301.5" y2="166.2" stroke="#1c1c1c" stroke-width="1"/>
<line x1="299.9" y1="180.78" x2="301.5" y2="180.78" stroke="#1c1c1c" stroke-width="1"/>
<line x1="299.9" y1="195.36" x2="301.5" y2="195.36" stroke="#1c1c1c" stroke-width="1"/>
<line x1="299.9" y1="209.94" x2="301.5" y2="209.94" stroke="#1c1c1c" stroke-width="1"/>
<line x1="299.9" y1="224.52" x2="301.5" y2="224.52" stroke="#1c1c1c" stroke-width="1"/>
<line x1="299.9" y1="239.1" x2="301.5" y2="239.1" stroke="#1c1c1c" stroke-width="1"/>
<text x="298.6" y="168" font-size="5.1" text-anchor="end" font-weight="bold" fill="#1a1a1a" letter-spacing="0.1">2.5 × 10<tspan font-size="3.6" dy="-1.9">7</tspan></text>
<text x="298.6" y="182.58" font-size="5.1" text-anchor="end" font-weight="bold" fill="#1a1a1a" letter-spacing="0.1">2.0 × 10<tspan font-size="3.6" dy="-1.9">7</tspan></text>
<text x="298.6" y="197.16" font-size="5.1" text-anchor="end" font-weight="bold" fill="#1a1a1a" letter-spacing="0.1">1.5 × 10<tspan font-size="3.6" dy="-1.9">7</tspan></text>
<text x="298.6" y="211.74" font-size="5.1" text-anchor="end" font-weight="bold" fill="#1a1a1a" letter-spacing="0.1">1.0 × 10<tspan font-size="3.6" dy="-1.9">7</tspan></text>
<text x="298.6" y="226.32" font-size="5.1" text-anchor="end" font-weight="bold" fill="#1a1a1a" letter-spacing="0.1">5.0 × 10<tspan font-size="3.6" dy="-1.9">6</tspan></text>
<text x="299.4" y="240.91" font-size="5.1" text-anchor="end" font-weight="bold">0.0</text>
<line x1="301" y1="239.5" x2="375.5" y2="239.5" stroke="#1c1c1c" stroke-width="1"/>
<line x1="309.8" y1="239.5" x2="309.8" y2="241" stroke="#1c1c1c" stroke-width="1"/>
<line x1="328.6" y1="239.5" x2="328.6" y2="241" stroke="#1c1c1c" stroke-width="1"/>
<line x1="347.5" y1="239.5" x2="347.5" y2="241" stroke="#1c1c1c" stroke-width="1"/>
<line x1="366.6" y1="239.5" x2="366.6" y2="241" stroke="#1c1c1c" stroke-width="1"/>
<g stroke="#6a7cc0" stroke-width="0.6" opacity="0.9"><line x1="306.4" y1="226" x2="306.4" y2="238"/><line x1="305.4" y1="226" x2="307.4" y2="226"/></g>
<g stroke="#ec6f78" stroke-width="0.6" opacity="0.9"><line x1="313.2" y1="233.6" x2="313.2" y2="238"/><line x1="312.2" y1="233.6" x2="314.2" y2="233.6"/></g>
<rect x="304.8" y="232.3" width="3.2" height="6.8" fill="#fff" stroke="#3b52b3" stroke-width="1.2"/>
<rect x="311.6" y="237" width="3.2" height="2.1" fill="#fff" stroke="#ee3f4a" stroke-width="1.2"/>
<g stroke="#6a7cc0" stroke-width="0.6" opacity="0.9"><line x1="325.2" y1="235.2" x2="325.2" y2="238"/><line x1="324.2" y1="235.2" x2="326.2" y2="235.2"/></g>
<g stroke="#ec6f78" stroke-width="0.6" opacity="0.9"><line x1="332" y1="235" x2="332" y2="238"/><line x1="331" y1="235" x2="333" y2="235"/></g>
<rect x="323.6" y="238.3" width="3.2" height="0.8" fill="#fff" stroke="#3b52b3" stroke-width="1.2"/>
<rect x="330.4" y="237.4" width="3.2" height="1.7" fill="#fff" stroke="#ee3f4a" stroke-width="1.2"/>
<g stroke="#6a7cc0" stroke-width="0.6" opacity="0.9"><line x1="344.1" y1="199.6" x2="344.1" y2="223.2"/><line x1="343.1" y1="199.6" x2="345.1" y2="199.6"/></g>
<g stroke="#ec6f78" stroke-width="0.6" opacity="0.9"><line x1="350.9" y1="176.3" x2="350.9" y2="199.5"/><line x1="349.9" y1="176.3" x2="351.9" y2="176.3"/></g>
<rect x="342.5" y="215.8" width="3.2" height="23.3" fill="#fff" stroke="#3b52b3" stroke-width="1.2"/>
<rect x="349.3" y="192.1" width="3.2" height="47" fill="#fff" stroke="#ee3f4a" stroke-width="1.2"/>
<g stroke="#6a7cc0" stroke-width="0.5" opacity="0.9"><line x1="344.1" y1="230.8" x2="344.1" y2="215.2"/><line x1="343.3" y1="230.8" x2="344.9" y2="230.8"/></g>
<g stroke="#ec6f78" stroke-width="0.5" opacity="0.9"><line x1="350.9" y1="206.7" x2="350.9" y2="191.5"/><line x1="350.1" y1="206.7" x2="351.7" y2="206.7"/></g>
<g stroke="#6a7cc0" stroke-width="0.6" opacity="0.9"><line x1="363.2" y1="208.5" x2="363.2" y2="221.1"/><line x1="362.2" y1="208.5" x2="364.2" y2="208.5"/></g>
<g stroke="#ec6f78" stroke-width="0.6" opacity="0.9"><line x1="370" y1="195.3" x2="370" y2="208.4"/><line x1="369" y1="195.3" x2="371" y2="195.3"/></g>
<rect x="361.6" y="213.7" width="3.2" height="25.4" fill="#fff" stroke="#3b52b3" stroke-width="1.2"/>
<rect x="368.4" y="201" width="3.2" height="38.1" fill="#fff" stroke="#ee3f4a" stroke-width="1.2"/>
<g stroke="#6a7cc0" stroke-width="0.5" opacity="0.9"><line x1="363.2" y1="217.7" x2="363.2" y2="213.1"/><line x1="362.4" y1="217.7" x2="364" y2="217.7"/></g>
<g stroke="#ec6f78" stroke-width="0.5" opacity="0.9"><line x1="370" y1="205.5" x2="370" y2="200.4"/><line x1="369.2" y1="205.5" x2="370.8" y2="205.5"/></g>
<line x1="339.8" y1="172.5" x2="350.8" y2="172.5" stroke="#111" stroke-width="1"/>
<text x="345.3" y="172.61" font-size="7.2" text-anchor="middle" font-weight="bold" fill="#111" letter-spacing="0.2">*</text>
<line x1="359.2" y1="191.5" x2="369.1" y2="191.5" stroke="#111" stroke-width="1"/>
<text x="364.15" y="191.61" font-size="7.2" text-anchor="middle" font-weight="bold" fill="#111" letter-spacing="0.2">*</text>
<text x="309.6" y="249.31" font-size="6.5" text-anchor="middle" stroke="#1a1a1a" stroke-width="0.1">m+0</text>
<text x="327.7" y="249.31" font-size="6.5" text-anchor="middle" stroke="#1a1a1a" stroke-width="0.1">m+2</text>
<text x="347.2" y="249.31" font-size="6.5" text-anchor="middle" stroke="#1a1a1a" stroke-width="0.1">m+4</text>
<text x="365.4" y="249.31" font-size="6.5" text-anchor="middle" stroke="#1a1a1a" stroke-width="0.1">m+6</text>
<text x="259.4" y="208.54" font-size="6.3" text-anchor="middle" stroke="#1a1a1a" stroke-width="0.1" transform="rotate(-90 259.4 206.3)">Isotopologue</text>
<text x="268.3" y="208.5" font-size="6.2" text-anchor="middle" stroke="#1a1a1a" stroke-width="0.1" transform="rotate(-90 268.3 206.3)">(absolute intensity)</text>
<text x="395" y="166" font-size="14" font-weight="bold" fill="#000">H</text>
<text x="463.5" y="164.6" font-size="7.6" text-anchor="middle" stroke="#1a1a1a" stroke-width="0.1">Fumarate</text>
<line x1="437.5" y1="164.9" x2="437.5" y2="241.2" stroke="#1c1c1c" stroke-width="1"/>
<line x1="435.9" y1="164.9" x2="437.5" y2="164.9" stroke="#1c1c1c" stroke-width="1"/>
<line x1="435.9" y1="183.97" x2="437.5" y2="183.97" stroke="#1c1c1c" stroke-width="1"/>
<line x1="435.9" y1="203.05" x2="437.5" y2="203.05" stroke="#1c1c1c" stroke-width="1"/>
<line x1="435.9" y1="222.12" x2="437.5" y2="222.12" stroke="#1c1c1c" stroke-width="1"/>
<line x1="435.9" y1="241.2" x2="437.5" y2="241.2" stroke="#1c1c1c" stroke-width="1"/>
<text x="434.3" y="166.7" font-size="5.1" text-anchor="end" font-weight="bold" fill="#1a1a1a" letter-spacing="0.1">8 × 10<tspan font-size="3.6" dy="-1.9">7</tspan></text>
<text x="434.3" y="185.78" font-size="5.1" text-anchor="end" font-weight="bold" fill="#1a1a1a" letter-spacing="0.1">6 × 10<tspan font-size="3.6" dy="-1.9">7</tspan></text>
<text x="434.3" y="204.85" font-size="5.1" text-anchor="end" font-weight="bold" fill="#1a1a1a" letter-spacing="0.1">4 × 10<tspan font-size="3.6" dy="-1.9">7</tspan></text>
<text x="434.3" y="223.93" font-size="5.1" text-anchor="end" font-weight="bold" fill="#1a1a1a" letter-spacing="0.1">2 × 10<tspan font-size="3.6" dy="-1.9">7</tspan></text>
<text x="435" y="243.01" font-size="5.1" text-anchor="end" font-weight="bold">0</text>
<line x1="437" y1="241.5" x2="510.4" y2="241.5" stroke="#1c1c1c" stroke-width="1"/>
<line x1="449.2" y1="241.5" x2="449.2" y2="243" stroke="#1c1c1c" stroke-width="1"/>
<line x1="475.3" y1="241.5" x2="475.3" y2="243" stroke="#1c1c1c" stroke-width="1"/>
<line x1="501.4" y1="241.5" x2="501.4" y2="243" stroke="#1c1c1c" stroke-width="1"/>
<g stroke="#6a7cc0" stroke-width="0.6" opacity="0.9"><line x1="444.25" y1="208.1" x2="444.25" y2="218.7"/><line x1="443.05" y1="208.1" x2="445.45" y2="208.1"/></g>
<rect x="441.85" y="219.35" width="4.8" height="21.85" fill="#fff" stroke="#3b52b3" stroke-width="1.3"/>
<g stroke="#6a7cc0" stroke-width="0.5" opacity="0.9"><line x1="444.25" y1="229.3" x2="444.25" y2="218.7"/><line x1="443.25" y1="229.3" x2="445.25" y2="229.3"/></g>
<g stroke="#ec6f78" stroke-width="0.6" opacity="0.9"><line x1="453.85" y1="194.6" x2="453.85" y2="210.8"/><line x1="452.65" y1="194.6" x2="455.05" y2="194.6"/></g>
<rect x="451.45" y="211.45" width="4.8" height="29.75" fill="#fff" stroke="#ee3f4a" stroke-width="1.3"/>
<g stroke="#ec6f78" stroke-width="0.5" opacity="0.9"><line x1="453.85" y1="227" x2="453.85" y2="210.8"/><line x1="452.85" y1="227" x2="454.85" y2="227"/></g>
<g stroke="#6a7cc0" stroke-width="0.6" opacity="0.9"><line x1="470.3" y1="197.9" x2="470.3" y2="214.6"/><line x1="469.1" y1="197.9" x2="471.5" y2="197.9"/></g>
<rect x="467.75" y="215.25" width="5.1" height="25.95" fill="#fff" stroke="#3b52b3" stroke-width="1.3"/>
<g stroke="#6a7cc0" stroke-width="0.5" opacity="0.9"><line x1="470.3" y1="231.3" x2="470.3" y2="214.6"/><line x1="469.3" y1="231.3" x2="471.3" y2="231.3"/></g>
<g stroke="#ec6f78" stroke-width="0.6" opacity="0.9"><line x1="480.1" y1="185" x2="480.1" y2="202.7"/><line x1="478.9" y1="185" x2="481.3" y2="185"/></g>
<rect x="477.35" y="203.35" width="5.5" height="37.85" fill="#fff" stroke="#ee3f4a" stroke-width="1.3"/>
<g stroke="#ec6f78" stroke-width="0.5" opacity="0.9"><line x1="480.1" y1="220.4" x2="480.1" y2="202.7"/><line x1="479.1" y1="220.4" x2="481.1" y2="220.4"/></g>
<g stroke="#6a7cc0" stroke-width="0.6" opacity="0.9"><line x1="496.55" y1="233.5" x2="496.55" y2="236.5"/><line x1="495.35" y1="233.5" x2="497.75" y2="233.5"/></g>
<rect x="494.15" y="237.15" width="4.8" height="4.05" fill="#fff" stroke="#3b52b3" stroke-width="1.3"/>
<g stroke="#ec6f78" stroke-width="0.6" opacity="0.9"><line x1="506.35" y1="234.5" x2="506.35" y2="236.3"/><line x1="505.15" y1="234.5" x2="507.55" y2="234.5"/></g>
<rect x="503.75" y="236.95" width="5.2" height="4.25" fill="#fff" stroke="#ee3f4a" stroke-width="1.3"/>
<line x1="469.6" y1="181.5" x2="480" y2="181.5" stroke="#111" stroke-width="1"/>
<text x="474.8" y="178.78" font-size="8" text-anchor="middle" fill="#111" stroke="#111" stroke-width="0.1">ns</text>
<line x1="496" y1="230.5" x2="506.9" y2="230.5" stroke="#111" stroke-width="1"/>
<text x="501.45" y="226.08" font-size="8" text-anchor="middle" fill="#111" stroke="#111" stroke-width="0.1">ns</text>
<text x="449.2" y="252.76" font-size="7.2" text-anchor="middle" stroke="#1a1a1a" stroke-width="0.1">m+0</text>
<text x="475.3" y="252.76" font-size="7.2" text-anchor="middle" stroke="#1a1a1a" stroke-width="0.1">m+2</text>
<text x="501.4" y="252.76" font-size="7.2" text-anchor="middle" stroke="#1a1a1a" stroke-width="0.1">m+4</text>
<text x="398.1" y="208.79" font-size="7" text-anchor="middle" stroke="#1a1a1a" stroke-width="0.1" transform="rotate(-90 398.1 206.3)">Isotopologue</text>
<text x="408.7" y="208.79" font-size="7" text-anchor="middle" stroke="#1a1a1a" stroke-width="0.1" transform="rotate(-90 408.7 206.3)">(absolute intensity)</text>
<line x1="462.8" y1="261.5" x2="471.6" y2="261.5" stroke="#2e3f9a" stroke-width="2.4"/>
<text x="473.9" y="263.91" font-size="6.8" stroke="#1a1a1a" stroke-width="0.1">IL2;</text>
<line x1="492.8" y1="261.5" x2="501.5" y2="261.5" stroke="#e3262f" stroke-width="2.4"/>
<text x="504.3" y="263.91" font-size="6.8" stroke="#1a1a1a" stroke-width="0.1">IL12</text>
<text x="1.6" y="280.6" font-size="14" font-weight="bold" fill="#000">I</text>
<text x="82.7" y="281.3" font-size="7.6" text-anchor="middle" stroke="#1a1a1a" stroke-width="0.1">Malate</text>
<line x1="53.5" y1="284.7" x2="53.5" y2="332.5" stroke="#1c1c1c" stroke-width="1"/>
<line x1="53.5" y1="338.1" x2="53.5" y2="354.2" stroke="#1c1c1c" stroke-width="1"/>
<line x1="53.5" y1="332.5" x2="51.9" y2="332.5" stroke="#1c1c1c" stroke-width="0.8"/>
<line x1="53.5" y1="338.1" x2="51.9" y2="338.1" stroke="#1c1c1c" stroke-width="0.8"/>
<line x1="51.9" y1="284.7" x2="53.5" y2="284.7" stroke="#1c1c1c" stroke-width="0.8"/>
<text x="50" y="286.5" font-size="5.1" text-anchor="end" font-weight="bold" fill="#1a1a1a" letter-spacing="0.1">2.5 × 10<tspan font-size="3.6" dy="-1.9">8</tspan></text>
<line x1="51.9" y1="294.9" x2="53.5" y2="294.9" stroke="#1c1c1c" stroke-width="0.8"/>
<text x="50" y="296.7" font-size="5.1" text-anchor="end" font-weight="bold" fill="#1a1a1a" letter-spacing="0.1">2.0 × 10<tspan font-size="3.6" dy="-1.9">8</tspan></text>
<line x1="51.9" y1="305.3" x2="53.5" y2="305.3" stroke="#1c1c1c" stroke-width="0.8"/>
<text x="50" y="307.1" font-size="5.1" text-anchor="end" font-weight="bold" fill="#1a1a1a" letter-spacing="0.1">1.5 × 10<tspan font-size="3.6" dy="-1.9">8</tspan></text>
<line x1="51.9" y1="315.8" x2="53.5" y2="315.8" stroke="#1c1c1c" stroke-width="0.8"/>
<text x="50" y="317.6" font-size="5.1" text-anchor="end" font-weight="bold" fill="#1a1a1a" letter-spacing="0.1">1.0 × 10<tspan font-size="3.6" dy="-1.9">8</tspan></text>
<line x1="51.9" y1="326.2" x2="53.5" y2="326.2" stroke="#1c1c1c" stroke-width="0.8"/>
<text x="50" y="328" font-size="5.1" text-anchor="end" font-weight="bold" fill="#1a1a1a" letter-spacing="0.1">5.0 × 10<tspan font-size="3.6" dy="-1.9">7</tspan></text>
<line x1="51.9" y1="341.4" x2="53.5" y2="341.4" stroke="#1c1c1c" stroke-width="0.8"/>
<text x="50" y="343.2" font-size="5.1" text-anchor="end" font-weight="bold" fill="#1a1a1a" letter-spacing="0.1">1 × 10<tspan font-size="3.6" dy="-1.9">7</tspan></text>
<line x1="51.9" y1="347.8" x2="53.5" y2="347.8" stroke="#1c1c1c" stroke-width="0.8"/>
<text x="50" y="349.6" font-size="5.1" text-anchor="end" font-weight="bold" fill="#1a1a1a" letter-spacing="0.1">5 × 10<tspan font-size="3.6" dy="-1.9">6</tspan></text>
<line x1="51.9" y1="354.2" x2="53.5" y2="354.2" stroke="#1c1c1c" stroke-width="0.8"/>
<text x="50.5" y="356.01" font-size="5.1" text-anchor="end" font-weight="bold">0</text>
<line x1="53" y1="354.5" x2="122.7" y2="354.5" stroke="#1c1c1c" stroke-width="1"/>
<line x1="62.7" y1="354.5" x2="62.7" y2="356" stroke="#1c1c1c" stroke-width="1"/>
<line x1="87.3" y1="354.5" x2="87.3" y2="356" stroke="#1c1c1c" stroke-width="1"/>
<line x1="111.9" y1="354.5" x2="111.9" y2="356" stroke="#1c1c1c" stroke-width="1"/>
<g stroke="#6a7cc0" stroke-width="0.6" opacity="0.9"><line x1="59.05" y1="291.2" x2="59.05" y2="310.4"/><line x1="57.85" y1="291.2" x2="60.25" y2="291.2"/></g>
<path d="M56.6 332.5 V310.9 H61.5 V332.5" fill="#fff" stroke="#6677c0" stroke-width="1"/>
<path d="M56.6 338.3 V354.2 M61.5 338.3 V354.2" fill="none" stroke="#6677c0" stroke-width="1"/>
<g stroke="#6a7cc0" stroke-width="0.5" opacity="0.9"><line x1="59.05" y1="329.6" x2="59.05" y2="310.4"/><line x1="58.05" y1="329.6" x2="60.05" y2="329.6"/></g>
<g stroke="#ec6f78" stroke-width="0.6" opacity="0.9"><line x1="68.35" y1="287.8" x2="68.35" y2="306.2"/><line x1="67.15" y1="287.8" x2="69.55" y2="287.8"/></g>
<path d="M66 332.5 V306.7 H70.7 V332.5" fill="#fff" stroke="#e5505c" stroke-width="1"/>
<path d="M66 338.3 V354.2 M70.7 338.3 V354.2" fill="none" stroke="#e5505c" stroke-width="1"/>
<g stroke="#ec6f78" stroke-width="0.5" opacity="0.9"><line x1="68.35" y1="324.6" x2="68.35" y2="306.2"/><line x1="67.35" y1="324.6" x2="69.35" y2="324.6"/></g>
<path d="M80.9 338.3 V354.2 M86 338.3 V354.2" fill="none" stroke="#6677c0" stroke-width="1"/>
<path d="M90.1 338.3 V354.2 M95.3 338.3 V354.2" fill="none" stroke="#e5505c" stroke-width="1"/>
<g stroke="#6a7cc0" stroke-width="0.8" opacity="1"><line x1="83.4" y1="329.6" x2="83.4" y2="333.5"/><line x1="82.1" y1="329.6" x2="84.7" y2="329.6"/></g>
<line x1="91" y1="331" x2="94.4" y2="331" stroke="#e04050" stroke-width="0.9"/>
<line x1="91" y1="333" x2="94.4" y2="333" stroke="#e04050" stroke-width="0.9"/>
<line x1="83.45" y1="338.6" x2="83.45" y2="346" stroke="#6a7cc0" stroke-width="0.5"/>
<rect x="105.15" y="351.45" width="4.6" height="2.75" fill="#fff" stroke="#4a60b5" stroke-width="1.3"/>
<rect x="114.55" y="349.95" width="4.4" height="4.25" fill="#fff" stroke="#e5505c" stroke-width="1.3"/>
<line x1="82.7" y1="326.5" x2="93.2" y2="326.5" stroke="#111" stroke-width="1"/>
<text x="87.95" y="322.78" font-size="8" text-anchor="middle" fill="#111" stroke="#111" stroke-width="0.1">ns</text>
<line x1="107.3" y1="345.5" x2="117.8" y2="345.5" stroke="#111" stroke-width="1"/>
<text x="112.55" y="342.08" font-size="8" text-anchor="middle" fill="#111" stroke="#111" stroke-width="0.1">ns</text>
<text x="63.5" y="365.11" font-size="6.8" text-anchor="middle" stroke="#1a1a1a" stroke-width="0.1">m+0</text>
<text x="87.6" y="365.11" font-size="6.8" text-anchor="middle" stroke="#1a1a1a" stroke-width="0.1">m+2</text>
<text x="111.9" y="365.11" font-size="6.8" text-anchor="middle" stroke="#1a1a1a" stroke-width="0.1">m+4</text>
<text x="11.6" y="320.93" font-size="7.7" text-anchor="middle" stroke="#1a1a1a" stroke-width="0.1" transform="rotate(-90 11.6 318.2)">Isotopologue</text>
<text x="20.6" y="320.93" font-size="7.7" text-anchor="middle" stroke="#1a1a1a" stroke-width="0.1" transform="rotate(-90 20.6 318.2)">(absolute intensity)</text>
<text x="142.2" y="280" font-size="14" font-weight="bold" fill="#000">J</text>
<text x="208.5" y="274.3" font-size="7.6" text-anchor="middle" stroke="#1a1a1a" stroke-width="0.1">Oxaloacetate</text>
<line x1="184.5" y1="283.8" x2="184.5" y2="332.3" stroke="#1c1c1c" stroke-width="1"/>
<line x1="184.5" y1="338.5" x2="184.5" y2="354.7" stroke="#1c1c1c" stroke-width="1"/>
<line x1="184.5" y1="332.3" x2="182.9" y2="332.3" stroke="#1c1c1c" stroke-width="0.8"/>
<line x1="184.5" y1="338.5" x2="182.9" y2="338.5" stroke="#1c1c1c" stroke-width="0.8"/>
<line x1="182.9" y1="283.8" x2="184.5" y2="283.8" stroke="#1c1c1c" stroke-width="0.8"/>
<text x="181.8" y="285.6" font-size="5.1" text-anchor="end" font-weight="bold" fill="#1a1a1a" letter-spacing="0.1">2.5 × 10<tspan font-size="3.6" dy="-1.9">8</tspan></text>
<line x1="182.9" y1="294" x2="184.5" y2="294" stroke="#1c1c1c" stroke-width="0.8"/>
<text x="181.8" y="295.8" font-size="5.1" text-anchor="end" font-weight="bold" fill="#1a1a1a" letter-spacing="0.1">2.0 × 10<tspan font-size="3.6" dy="-1.9">8</tspan></text>
<line x1="182.9" y1="304.2" x2="184.5" y2="304.2" stroke="#1c1c1c" stroke-width="0.8"/>
<text x="181.8" y="306" font-size="5.1" text-anchor="end" font-weight="bold" fill="#1a1a1a" letter-spacing="0.1">1.5 × 10<tspan font-size="3.6" dy="-1.9">8</tspan></text>
<line x1="182.9" y1="314.3" x2="184.5" y2="314.3" stroke="#1c1c1c" stroke-width="0.8"/>
<text x="181.8" y="316.1" font-size="5.1" text-anchor="end" font-weight="bold" fill="#1a1a1a" letter-spacing="0.1">1.0 × 10<tspan font-size="3.6" dy="-1.9">8</tspan></text>
<line x1="182.9" y1="324.3" x2="184.5" y2="324.3" stroke="#1c1c1c" stroke-width="0.8"/>
<text x="181.8" y="326.1" font-size="5.1" text-anchor="end" font-weight="bold" fill="#1a1a1a" letter-spacing="0.1">5.0 × 10<tspan font-size="3.6" dy="-1.9">7</tspan></text>
<line x1="182.9" y1="342.2" x2="184.5" y2="342.2" stroke="#1c1c1c" stroke-width="0.8"/>
<text x="181.8" y="344" font-size="5.1" text-anchor="end" font-weight="bold" fill="#1a1a1a" letter-spacing="0.1">1 × 10<tspan font-size="3.6" dy="-1.9">7</tspan></text>
<line x1="182.9" y1="348.5" x2="184.5" y2="348.5" stroke="#1c1c1c" stroke-width="0.8"/>
<text x="181.8" y="350.3" font-size="5.1" text-anchor="end" font-weight="bold" fill="#1a1a1a" letter-spacing="0.1">5 × 10<tspan font-size="3.6" dy="-1.9">6</tspan></text>
<line x1="182.9" y1="354.7" x2="184.5" y2="354.7" stroke="#1c1c1c" stroke-width="0.8"/>
<text x="182.3" y="356.51" font-size="5.1" text-anchor="end" font-weight="bold">0</text>
<line x1="184" y1="354.5" x2="257.8" y2="354.5" stroke="#1c1c1c" stroke-width="1"/>
<line x1="198" y1="354.5" x2="198" y2="356" stroke="#1c1c1c" stroke-width="1"/>
<line x1="222.3" y1="354.5" x2="222.3" y2="356" stroke="#1c1c1c" stroke-width="1"/>
<line x1="247" y1="354.5" x2="247" y2="356" stroke="#1c1c1c" stroke-width="1"/>
<rect x="191.15" y="349.15" width="4" height="5.55" fill="#fff" stroke="#2f45a6" stroke-width="1.3"/>
<g stroke="#6a7cc0" stroke-width="0.6" opacity="0.9"><line x1="193.1" y1="346.3" x2="193.1" y2="348.5"/><line x1="192.1" y1="346.3" x2="194.1" y2="346.3"/></g>
<path d="M199.3 338.6 V354.7 M204.5 338.6 V354.7" fill="none" stroke="#e3333f" stroke-width="1"/>
<g stroke="#ec6f78" stroke-width="0.6" opacity="0.9"><line x1="201.9" y1="331" x2="201.9" y2="331.4"/><line x1="200.9" y1="331" x2="202.9" y2="331"/></g>
<g stroke="#6a7cc0" stroke-width="0.6" opacity="0.9"><line x1="217.85" y1="290" x2="217.85" y2="309.3"/><line x1="216.65" y1="290" x2="219.05" y2="290"/></g>
<path d="M215.4 331.8 V309.8 H220.3 V331.8" fill="#fff" stroke="#2f45a6" stroke-width="1"/>
<path d="M215.4 338.6 V354.7 M220.3 338.6 V354.7" fill="none" stroke="#2f45a6" stroke-width="1"/>
<g stroke="#6a7cc0" stroke-width="0.5" opacity="0.9"><line x1="217.85" y1="328.6" x2="217.85" y2="309.3"/><line x1="216.85" y1="328.6" x2="218.85" y2="328.6"/></g>
<g stroke="#ec6f78" stroke-width="0.6" opacity="0.9"><line x1="227.1" y1="287" x2="227.1" y2="305.4"/><line x1="225.9" y1="287" x2="228.3" y2="287"/></g>
<path d="M224.7 331.8 V305.9 H229.5 V331.8" fill="#fff" stroke="#e3333f" stroke-width="1"/>
<path d="M224.7 338.6 V354.7 M229.5 338.6 V354.7" fill="none" stroke="#e3333f" stroke-width="1"/>
<g stroke="#ec6f78" stroke-width="0.5" opacity="0.9"><line x1="227.1" y1="323.8" x2="227.1" y2="305.4"/><line x1="226.1" y1="323.8" x2="228.1" y2="323.8"/></g>
<rect x="240.45" y="342.25" width="4.4" height="12.45" fill="#fff" stroke="#2f45a6" stroke-width="1.3"/>
<rect x="249.65" y="341.85" width="4.4" height="12.85" fill="#fff" stroke="#e3333f" stroke-width="1.3"/>
<g stroke="#6a7cc0" stroke-width="0.6" opacity="0.9"><line x1="242.6" y1="339" x2="242.6" y2="350"/><line x1="241.6" y1="339" x2="243.6" y2="339"/></g>
<g stroke="#ec6f78" stroke-width="0.6" opacity="0.9"><line x1="251.9" y1="339.8" x2="251.9" y2="341.2"/><line x1="250.8" y1="339.8" x2="253" y2="339.8"/></g>
<g stroke="#6a7cc0" stroke-width="0.6" opacity="0.9"><line x1="242.6" y1="331" x2="242.6" y2="331.4"/><line x1="241.6" y1="331" x2="243.6" y2="331"/></g>
<line x1="217.7" y1="284.5" x2="229.7" y2="284.5" stroke="#111" stroke-width="1"/>
<text x="223.7" y="281.78" font-size="8" text-anchor="middle" fill="#111" stroke="#111" stroke-width="0.1">ns</text>
<line x1="242.4" y1="327.5" x2="252.4" y2="327.5" stroke="#111" stroke-width="1"/>
<text x="247.4" y="324.28" font-size="8" text-anchor="middle" fill="#111" stroke="#111" stroke-width="0.1">ns</text>
<text x="197.5" y="365.56" font-size="7.2" text-anchor="middle" stroke="#1a1a1a" stroke-width="0.1">m+0</text>
<text x="221.5" y="365.56" font-size="7.2" text-anchor="middle" stroke="#1a1a1a" stroke-width="0.1">m+2</text>
<text x="247" y="365.56" font-size="7.2" text-anchor="middle" stroke="#1a1a1a" stroke-width="0.1">m+4</text>
<text x="145.6" y="321.53" font-size="7.7" text-anchor="middle" stroke="#1a1a1a" stroke-width="0.1" transform="rotate(-90 145.6 318.8)">Isotopologue</text>
<text x="154.6" y="321.53" font-size="7.7" text-anchor="middle" stroke="#1a1a1a" stroke-width="0.1" transform="rotate(-90 154.6 318.8)">(absolute intensity)</text>
<line x1="197.9" y1="373.6" x2="206.5" y2="373.6" stroke="#2e3f9a" stroke-width="2.4"/>
<text x="210.2" y="376.01" font-size="6.8" stroke="#1a1a1a" stroke-width="0.1">IL2;</text>
<line x1="227.7" y1="373.6" x2="236.3" y2="373.6" stroke="#e3262f" stroke-width="2.4"/>
<text x="239.6" y="376.01" font-size="6.8" stroke="#1a1a1a" stroke-width="0.1">IL12</text>
<text x="276.6" y="280.4" font-size="14" font-weight="bold" fill="#000">K</text>
<text x="321" y="290.69" font-size="7.3" text-anchor="middle" stroke="#1a1a1a" stroke-width="0.1">IL12+80% TCM</text>
<text x="380.7" y="281.69" font-size="7" text-anchor="middle" stroke="#1a1a1a" stroke-width="0.1">IL12+BMS</text>
<text x="380.6" y="290.63" font-size="7.4" text-anchor="middle" stroke="#1a1a1a" stroke-width="0.1">+80% TCM</text>
<rect x="293.5" y="292.1" width="52.5" height="52.9" fill="#fff" stroke="#8a8a8a" stroke-width="0.6"/>
<line x1="292.3" y1="298.5" x2="293.5" y2="298.5" stroke="#999" stroke-width="0.4"/>
<text x="291.9" y="299.3" font-size="2.4" text-anchor="end" fill="#aaa">10<tspan font-size="1.8" dy="-0.8">3</tspan></text>
<line x1="292.3" y1="310.5" x2="293.5" y2="310.5" stroke="#999" stroke-width="0.4"/>
<text x="291.9" y="311.3" font-size="2.4" text-anchor="end" fill="#aaa">10<tspan font-size="1.8" dy="-0.8">3</tspan></text>
<line x1="292.3" y1="322" x2="293.5" y2="322" stroke="#999" stroke-width="0.4"/>
<text x="291.9" y="322.8" font-size="2.4" text-anchor="end" fill="#aaa">10<tspan font-size="1.8" dy="-0.8">3</tspan></text>
<line x1="292.3" y1="333.5" x2="293.5" y2="333.5" stroke="#999" stroke-width="0.4"/>
<text x="291.9" y="334.3" font-size="2.4" text-anchor="end" fill="#aaa">10<tspan font-size="1.8" dy="-0.8">3</tspan></text>
<line x1="292.3" y1="341" x2="293.5" y2="341" stroke="#999" stroke-width="0.4"/>
<text x="291.9" y="341.8" font-size="2.4" text-anchor="end" fill="#aaa">10<tspan font-size="1.8" dy="-0.8">3</tspan></text>
<line x1="301.5" y1="345" x2="301.5" y2="346.2" stroke="#999" stroke-width="0.4"/>
<text x="301.5" y="348.6" font-size="2.4" text-anchor="middle" fill="#aaa" transform="rotate(-45 301.5 348.6)">10<tspan font-size="1.8" dy="-0.8">3</tspan></text>
<line x1="314.5" y1="345" x2="314.5" y2="346.2" stroke="#999" stroke-width="0.4"/>
<text x="314.5" y="348.6" font-size="2.4" text-anchor="middle" fill="#aaa" transform="rotate(-45 314.5 348.6)">10<tspan font-size="1.8" dy="-0.8">3</tspan></text>
<line x1="327.5" y1="345" x2="327.5" y2="346.2" stroke="#999" stroke-width="0.4"/>
<text x="327.5" y="348.6" font-size="2.4" text-anchor="middle" fill="#aaa" transform="rotate(-45 327.5 348.6)">10<tspan font-size="1.8" dy="-0.8">3</tspan></text>
<line x1="340" y1="345" x2="340" y2="346.2" stroke="#999" stroke-width="0.4"/>
<text x="340" y="348.6" font-size="2.4" text-anchor="middle" fill="#aaa" transform="rotate(-45 340 348.6)">10<tspan font-size="1.8" dy="-0.8">3</tspan></text>
<g filter="url(#jet)">
<ellipse cx="308.7" cy="316" rx="5.8" ry="13.4" fill="url(#gd)" fill-opacity="0.82"/>
<ellipse cx="323.5" cy="314.2" rx="14" ry="12" fill="url(#gd)" fill-opacity="0.62" transform="rotate(-4 323.5 314.2)"/>
<ellipse cx="326.6" cy="311.8" rx="7.5" ry="5.5" fill="url(#gd)" fill-opacity="0.9" transform="rotate(-5 326.6 311.8)"/>
<ellipse cx="315.5" cy="316.5" rx="4" ry="12.5" fill="url(#gd)" fill-opacity="0.35"/>
</g>
<line x1="313.2" y1="292.1" x2="313.2" y2="345" stroke="#555" stroke-width="0.8"/>
<line x1="293.5" y1="327.7" x2="346" y2="327.7" stroke="#555" stroke-width="0.8"/>
<text x="294.4" y="302.04" font-size="6.6" stroke="#1a1a1a" stroke-width="0.1">28.3</text>
<text x="337.3" y="302.04" font-size="6.6" text-anchor="end" stroke="#1a1a1a" stroke-width="0.1">71.7</text>
<text x="294.8" y="341.14" font-size="6.6" stroke="#1a1a1a" stroke-width="0.1">0</text>
<text x="344.5" y="341.14" font-size="6.6" text-anchor="end" stroke="#1a1a1a" stroke-width="0.1">0</text>
<rect x="354.3" y="292.3" width="53.4" height="52.8" fill="#fff" stroke="#8a8a8a" stroke-width="0.6"/>
<line x1="353.1" y1="298.5" x2="354.3" y2="298.5" stroke="#999" stroke-width="0.4"/>
<text x="352.7" y="299.3" font-size="2.4" text-anchor="end" fill="#aaa">10<tspan font-size="1.8" dy="-0.8">3</tspan></text>
<line x1="353.1" y1="310.5" x2="354.3" y2="310.5" stroke="#999" stroke-width="0.4"/>
<text x="352.7" y="311.3" font-size="2.4" text-anchor="end" fill="#aaa">10<tspan font-size="1.8" dy="-0.8">3</tspan></text>
<line x1="353.1" y1="322" x2="354.3" y2="322" stroke="#999" stroke-width="0.4"/>
<text x="352.7" y="322.8" font-size="2.4" text-anchor="end" fill="#aaa">10<tspan font-size="1.8" dy="-0.8">3</tspan></text>
<line x1="353.1" y1="333.5" x2="354.3" y2="333.5" stroke="#999" stroke-width="0.4"/>
<text x="352.7" y="334.3" font-size="2.4" text-anchor="end" fill="#aaa">10<tspan font-size="1.8" dy="-0.8">3</tspan></text>
<line x1="353.1" y1="341" x2="354.3" y2="341" stroke="#999" stroke-width="0.4"/>
<text x="352.7" y="341.8" font-size="2.4" text-anchor="end" fill="#aaa">10<tspan font-size="1.8" dy="-0.8">3</tspan></text>
<line x1="362.5" y1="345.1" x2="362.5" y2="346.3" stroke="#999" stroke-width="0.4"/>
<text x="362.5" y="348.7" font-size="2.4" text-anchor="middle" fill="#aaa" transform="rotate(-45 362.5 348.7)">10<tspan font-size="1.8" dy="-0.8">3</tspan></text>
<line x1="375.5" y1="345.1" x2="375.5" y2="346.3" stroke="#999" stroke-width="0.4"/>
<text x="375.5" y="348.7" font-size="2.4" text-anchor="middle" fill="#aaa" transform="rotate(-45 375.5 348.7)">10<tspan font-size="1.8" dy="-0.8">3</tspan></text>
<line x1="388.5" y1="345.1" x2="388.5" y2="346.3" stroke="#999" stroke-width="0.4"/>
<text x="388.5" y="348.7" font-size="2.4" text-anchor="middle" fill="#aaa" transform="rotate(-45 388.5 348.7)">10<tspan font-size="1.8" dy="-0.8">3</tspan></text>
<line x1="401" y1="345.1" x2="401" y2="346.3" stroke="#999" stroke-width="0.4"/>
<text x="401" y="348.7" font-size="2.4" text-anchor="middle" fill="#aaa" transform="rotate(-45 401 348.7)">10<tspan font-size="1.8" dy="-0.8">3</tspan></text>
<g filter="url(#jet)">
<ellipse cx="369.8" cy="315.8" rx="5.8" ry="14.2" fill="url(#gd)" fill-opacity="0.62"/>
<ellipse cx="369.4" cy="311.2" rx="3.4" ry="6" fill="url(#gd)" fill-opacity="0.92"/>
<ellipse cx="369.6" cy="320.5" rx="2.8" ry="5" fill="url(#gd)" fill-opacity="0.5"/>
<ellipse cx="387" cy="312.5" rx="12" ry="10" fill="url(#gd)" fill-opacity="0.5" transform="rotate(-5 387 312.5)"/>
<ellipse cx="388.3" cy="310.8" rx="6.5" ry="4" fill="url(#gd)" fill-opacity="0.7" transform="rotate(-10 388.3 310.8)"/>
<ellipse cx="389" cy="318.5" rx="5" ry="5" fill="url(#gd)" fill-opacity="0.25"/>
<ellipse cx="377.5" cy="312.5" rx="5" ry="8" fill="url(#gd)" fill-opacity="0.3"/>
<ellipse cx="375.6" cy="320" rx="1.6" ry="6" fill="url(#gd)" fill-opacity="0.28"/>
</g>
<line x1="374.2" y1="292.3" x2="374.2" y2="345.1" stroke="#555" stroke-width="0.8"/>
<line x1="354.3" y1="327.4" x2="407.7" y2="327.4" stroke="#555" stroke-width="0.8"/>
<text x="355.8" y="302.04" font-size="6.6" stroke="#1a1a1a" stroke-width="0.1">45.6</text>
<text x="400.6" y="302.04" font-size="6.6" text-anchor="end" stroke="#1a1a1a" stroke-width="0.1">54.4</text>
<text x="356" y="341.14" font-size="6.6" stroke="#1a1a1a" stroke-width="0.1">0</text>
<text x="405.7" y="341.14" font-size="6.6" text-anchor="end" stroke="#1a1a1a" stroke-width="0.1">0</text>
<text x="284.8" y="338.91" font-size="8.2" text-anchor="middle" stroke="#1a1a1a" stroke-width="0.1" transform="rotate(-90 284.8 336)">CD8</text>
<line x1="284.6" y1="296.5" x2="284.6" y2="325.5" stroke="#222" stroke-width="1"/>
<circle cx="284.6" cy="296.8" r="1" fill="#111"/>
<text x="296.4" y="355.84" font-size="8" letter-spacing="-0.5" stroke="#1a1a1a" stroke-width="0.1">IFNγ</text>
<line x1="317.6" y1="353.8" x2="402.5" y2="353.8" stroke="#333" stroke-width="1.2"/>
<circle cx="402.8" cy="353.8" r="1.1" fill="#111"/>
<line x1="448.5" y1="284.3" x2="448.5" y2="345.7" stroke="#1c1c1c" stroke-width="1"/>
<line x1="446.3" y1="284.3" x2="448.5" y2="284.3" stroke="#1c1c1c" stroke-width="1"/>
<text x="445.5" y="286.04" font-size="4.9" text-anchor="end" font-weight="bold">80</text>
<line x1="446.3" y1="299.65" x2="448.5" y2="299.65" stroke="#1c1c1c" stroke-width="1"/>
<text x="445.5" y="301.39" font-size="4.9" text-anchor="end" font-weight="bold">60</text>
<line x1="446.3" y1="315" x2="448.5" y2="315" stroke="#1c1c1c" stroke-width="1"/>
<text x="445.5" y="316.74" font-size="4.9" text-anchor="end" font-weight="bold">40</text>
<line x1="446.3" y1="330.35" x2="448.5" y2="330.35" stroke="#1c1c1c" stroke-width="1"/>
<text x="445.5" y="332.09" font-size="4.9" text-anchor="end" font-weight="bold">20</text>
<line x1="446.3" y1="345.7" x2="448.5" y2="345.7" stroke="#1c1c1c" stroke-width="1"/>
<text x="445.5" y="347.44" font-size="4.9" text-anchor="end" font-weight="bold">0</text>
<line x1="448" y1="345.5" x2="479.8" y2="345.5" stroke="#1c1c1c" stroke-width="1"/>
<rect x="452.55" y="291.47" width="8.6" height="54.23" fill="#fff" stroke="#9d66bd" stroke-width="1.3"/>
<rect x="467.75" y="303.75" width="8.9" height="41.95" fill="#fff" stroke="#111111" stroke-width="1.3"/>
<circle cx="452.8" cy="292.4" r="1.3" fill="#1a1a1a"/>
<circle cx="456.8" cy="290.6" r="1.3" fill="#1a1a1a"/>
<circle cx="460.4" cy="292" r="1.3" fill="#1a1a1a"/>
<circle cx="468.6" cy="304.4" r="1.3" fill="#111"/>
<circle cx="472.4" cy="302.4" r="1.3" fill="#111"/>
<circle cx="476" cy="303.4" r="1.3" fill="#111"/>
<line x1="453.9" y1="285.5" x2="473.4" y2="285.5" stroke="#111" stroke-width="1"/>
<text x="463.65" y="286.14" font-size="10.5" text-anchor="middle" font-weight="bold" fill="#111" letter-spacing="0.2">***</text>
<text x="422.9" y="318.99" font-size="7" text-anchor="middle" stroke="#1a1a1a" stroke-width="0.1" transform="rotate(-90 422.9 316.5)">IFNγ Production</text>
<text x="430.9" y="318.99" font-size="7" text-anchor="middle" stroke="#1a1a1a" stroke-width="0.1" transform="rotate(-90 430.9 316.5)">(percentage of cells)</text>
<line x1="432.2" y1="353.8" x2="438.4" y2="353.8" stroke="#9d66bd" stroke-width="1.8"/>
<text x="441.4" y="355.91" font-size="6.8" stroke="#1a1a1a" stroke-width="0.1">IL12+80%TCM</text>
<line x1="432.2" y1="363.3" x2="438.4" y2="363.3" stroke="#111111" stroke-width="1.8"/>
<text x="441.4" y="366.11" font-size="6.8" stroke="#1a1a1a" stroke-width="0.1">IL12+BMS+80%TCM</text>
<text x="1.8" y="393.6" font-size="14" font-weight="bold" fill="#000">L</text>
<text x="52.8" y="397.76" font-size="7.2" text-anchor="middle" stroke="#1a1a1a" stroke-width="0.1">IL12+Ctrl shRNA</text>
<text x="51.3" y="406.06" font-size="7.5" text-anchor="middle" stroke="#1a1a1a" stroke-width="0.1">+80%TCM.</text>
<text x="118.3" y="397.76" font-size="7.2" text-anchor="middle" stroke="#1a1a1a" stroke-width="0.1">IL12+Acly shRNA</text>
<text x="118.3" y="405.86" font-size="7.5" text-anchor="middle" stroke="#1a1a1a" stroke-width="0.1">+80%TCM</text>
<rect x="27.3" y="407.7" width="56.6" height="55" fill="#fff" stroke="#8a8a8a" stroke-width="0.6"/>
<line x1="26.1" y1="412.5" x2="27.3" y2="412.5" stroke="#999" stroke-width="0.4"/>
<text x="25.7" y="413.3" font-size="2.4" text-anchor="end" fill="#aaa">10<tspan font-size="1.8" dy="-0.8">3</tspan></text>
<line x1="26.1" y1="420.5" x2="27.3" y2="420.5" stroke="#999" stroke-width="0.4"/>
<text x="25.7" y="421.3" font-size="2.4" text-anchor="end" fill="#aaa">10<tspan font-size="1.8" dy="-0.8">3</tspan></text>
<line x1="26.1" y1="428.5" x2="27.3" y2="428.5" stroke="#999" stroke-width="0.4"/>
<text x="25.7" y="429.3" font-size="2.4" text-anchor="end" fill="#aaa">10<tspan font-size="1.8" dy="-0.8">3</tspan></text>
<line x1="26.1" y1="436.5" x2="27.3" y2="436.5" stroke="#999" stroke-width="0.4"/>
<text x="25.7" y="437.3" font-size="2.4" text-anchor="end" fill="#aaa">10<tspan font-size="1.8" dy="-0.8">3</tspan></text>
<line x1="26.1" y1="444.5" x2="27.3" y2="444.5" stroke="#999" stroke-width="0.4"/>
<text x="25.7" y="445.3" font-size="2.4" text-anchor="end" fill="#aaa">10<tspan font-size="1.8" dy="-0.8">3</tspan></text>
<line x1="26.1" y1="452.5" x2="27.3" y2="452.5" stroke="#999" stroke-width="0.4"/>
<text x="25.7" y="453.3" font-size="2.4" text-anchor="end" fill="#aaa">10<tspan font-size="1.8" dy="-0.8">3</tspan></text>
<line x1="33.5" y1="462.7" x2="33.5" y2="463.9" stroke="#999" stroke-width="0.4"/>
<text x="33.5" y="466.3" font-size="2.4" text-anchor="middle" fill="#aaa" transform="rotate(-45 33.5 466.3)">10<tspan font-size="1.8" dy="-0.8">3</tspan></text>
<line x1="45.5" y1="462.7" x2="45.5" y2="463.9" stroke="#999" stroke-width="0.4"/>
<text x="45.5" y="466.3" font-size="2.4" text-anchor="middle" fill="#aaa" transform="rotate(-45 45.5 466.3)">10<tspan font-size="1.8" dy="-0.8">3</tspan></text>
<line x1="57.5" y1="462.7" x2="57.5" y2="463.9" stroke="#999" stroke-width="0.4"/>
<text x="57.5" y="466.3" font-size="2.4" text-anchor="middle" fill="#aaa" transform="rotate(-45 57.5 466.3)">10<tspan font-size="1.8" dy="-0.8">3</tspan></text>
<line x1="69.5" y1="462.7" x2="69.5" y2="463.9" stroke="#999" stroke-width="0.4"/>
<text x="69.5" y="466.3" font-size="2.4" text-anchor="middle" fill="#aaa" transform="rotate(-45 69.5 466.3)">10<tspan font-size="1.8" dy="-0.8">3</tspan></text>
<line x1="79" y1="462.7" x2="79" y2="463.9" stroke="#999" stroke-width="0.4"/>
<text x="79" y="466.3" font-size="2.4" text-anchor="middle" fill="#aaa" transform="rotate(-45 79 466.3)">10<tspan font-size="1.8" dy="-0.8">3</tspan></text>
<g filter="url(#jet)">
<ellipse cx="43.2" cy="431.5" rx="6.8" ry="12.5" fill="url(#gd)" fill-opacity="0.66"/>
<ellipse cx="42.6" cy="428" rx="3.2" ry="3.2" fill="url(#gd)" fill-opacity="0.92"/>
<ellipse cx="42.6" cy="434.3" rx="3.2" ry="3.2" fill="url(#gd)" fill-opacity="0.92"/>
<ellipse cx="61" cy="429.2" rx="16.5" ry="9" fill="url(#gd)" fill-opacity="0.5" transform="rotate(-2 61 429.2)"/>
<ellipse cx="66.5" cy="427.2" rx="8" ry="3.8" fill="url(#gd)" fill-opacity="0.95" transform="rotate(-4 66.5 427.2)"/>
<ellipse cx="61" cy="434.5" rx="10" ry="5" fill="url(#gd)" fill-opacity="0.28"/>
<ellipse cx="50.5" cy="429.5" rx="4" ry="6.5" fill="url(#gd)" fill-opacity="0.35"/>
</g>
<line x1="49.7" y1="407.7" x2="49.7" y2="462.7" stroke="#555" stroke-width="0.8"/>
<line x1="27.3" y1="441.4" x2="83.9" y2="441.4" stroke="#555" stroke-width="0.8"/>
<text x="28.7" y="417.84" font-size="6.6" stroke="#1a1a1a" stroke-width="0.1">43.7</text>
<text x="76" y="417.84" font-size="6.6" text-anchor="end" stroke="#1a1a1a" stroke-width="0.1">56.3</text>
<text x="29" y="458.44" font-size="6.6" stroke="#1a1a1a" stroke-width="0.1">0</text>
<text x="80.8" y="458.44" font-size="6.6" text-anchor="end" stroke="#1a1a1a" stroke-width="0.1">0</text>
<rect x="90.7" y="407.7" width="55.4" height="55" fill="#fff" stroke="#8a8a8a" stroke-width="0.6"/>
<line x1="89.5" y1="412.5" x2="90.7" y2="412.5" stroke="#999" stroke-width="0.4"/>
<text x="89.1" y="413.3" font-size="2.4" text-anchor="end" fill="#aaa">10<tspan font-size="1.8" dy="-0.8">3</tspan></text>
<line x1="89.5" y1="420.5" x2="90.7" y2="420.5" stroke="#999" stroke-width="0.4"/>
<text x="89.1" y="421.3" font-size="2.4" text-anchor="end" fill="#aaa">10<tspan font-size="1.8" dy="-0.8">3</tspan></text>
<line x1="89.5" y1="428.5" x2="90.7" y2="428.5" stroke="#999" stroke-width="0.4"/>
<text x="89.1" y="429.3" font-size="2.4" text-anchor="end" fill="#aaa">10<tspan font-size="1.8" dy="-0.8">3</tspan></text>
<line x1="89.5" y1="436.5" x2="90.7" y2="436.5" stroke="#999" stroke-width="0.4"/>
<text x="89.1" y="437.3" font-size="2.4" text-anchor="end" fill="#aaa">10<tspan font-size="1.8" dy="-0.8">3</tspan></text>
<line x1="89.5" y1="444.5" x2="90.7" y2="444.5" stroke="#999" stroke-width="0.4"/>
<text x="89.1" y="445.3" font-size="2.4" text-anchor="end" fill="#aaa">10<tspan font-size="1.8" dy="-0.8">3</tspan></text>
<line x1="89.5" y1="452.5" x2="90.7" y2="452.5" stroke="#999" stroke-width="0.4"/>
<text x="89.1" y="453.3" font-size="2.4" text-anchor="end" fill="#aaa">10<tspan font-size="1.8" dy="-0.8">3</tspan></text>
<line x1="97" y1="462.7" x2="97" y2="463.9" stroke="#999" stroke-width="0.4"/>
<text x="97" y="466.3" font-size="2.4" text-anchor="middle" fill="#aaa" transform="rotate(-45 97 466.3)">10<tspan font-size="1.8" dy="-0.8">3</tspan></text>
<line x1="109" y1="462.7" x2="109" y2="463.9" stroke="#999" stroke-width="0.4"/>
<text x="109" y="466.3" font-size="2.4" text-anchor="middle" fill="#aaa" transform="rotate(-45 109 466.3)">10<tspan font-size="1.8" dy="-0.8">3</tspan></text>
<line x1="121" y1="462.7" x2="121" y2="463.9" stroke="#999" stroke-width="0.4"/>
<text x="121" y="466.3" font-size="2.4" text-anchor="middle" fill="#aaa" transform="rotate(-45 121 466.3)">10<tspan font-size="1.8" dy="-0.8">3</tspan></text>
<line x1="133" y1="462.7" x2="133" y2="463.9" stroke="#999" stroke-width="0.4"/>
<text x="133" y="466.3" font-size="2.4" text-anchor="middle" fill="#aaa" transform="rotate(-45 133 466.3)">10<tspan font-size="1.8" dy="-0.8">3</tspan></text>
<line x1="142" y1="462.7" x2="142" y2="463.9" stroke="#999" stroke-width="0.4"/>
<text x="142" y="466.3" font-size="2.4" text-anchor="middle" fill="#aaa" transform="rotate(-45 142 466.3)">10<tspan font-size="1.8" dy="-0.8">3</tspan></text>
<g filter="url(#jet)">
<ellipse cx="105.6" cy="431.5" rx="6.8" ry="12.8" fill="url(#gd)" fill-opacity="0.66"/>
<ellipse cx="104.6" cy="436.2" rx="3.4" ry="3.4" fill="url(#gd)" fill-opacity="0.95"/>
<ellipse cx="104" cy="428" rx="2.8" ry="3.4" fill="url(#gd)" fill-opacity="0.55"/>
<ellipse cx="124" cy="430.5" rx="15.5" ry="9" fill="url(#gd)" fill-opacity="0.42" transform="rotate(-3 124 430.5)"/>
<ellipse cx="129.8" cy="428.5" rx="7.5" ry="5" fill="url(#gd)" fill-opacity="0.55" transform="rotate(-4 129.8 428.5)"/>
<ellipse cx="123.5" cy="434" rx="7" ry="5" fill="url(#gd)" fill-opacity="0.25"/>
<ellipse cx="113.5" cy="430.5" rx="4.5" ry="6.5" fill="url(#gd)" fill-opacity="0.32"/>
</g>
<line x1="111.7" y1="407.7" x2="111.7" y2="462.7" stroke="#555" stroke-width="0.8"/>
<line x1="90.7" y1="441.4" x2="146.1" y2="441.4" stroke="#555" stroke-width="0.8"/>
<text x="91" y="417.84" font-size="6.6" stroke="#1a1a1a" stroke-width="0.1">63.8</text>
<text x="138.6" y="417.84" font-size="6.6" text-anchor="end" stroke="#1a1a1a" stroke-width="0.1">36.2</text>
<text x="92.6" y="458.44" font-size="6.6" stroke="#1a1a1a" stroke-width="0.1">0</text>
<text x="143.2" y="458.44" font-size="6.6" text-anchor="end" stroke="#1a1a1a" stroke-width="0.1">0</text>
<text x="17.6" y="453.91" font-size="8.2" text-anchor="middle" stroke="#1a1a1a" stroke-width="0.1" transform="rotate(-90 17.6 451)">CD8</text>
<line x1="17.3" y1="414.5" x2="17.3" y2="442" stroke="#222" stroke-width="1"/>
<path d="M15.6 416 L17.3 411.8 L19.0 416 Z" fill="#111"/>
<text x="35.3" y="473.14" font-size="8" stroke="#1a1a1a" stroke-width="0.1">IFNγ</text>
<line x1="53.6" y1="470.8" x2="130.5" y2="470.8" stroke="#222" stroke-width="1.1"/>
<path d="M129.5 469 L133.8 470.8 L129.5 472.6 Z" fill="#111"/>
<line x1="179.5" y1="405.6" x2="179.5" y2="457.9" stroke="#1c1c1c" stroke-width="1"/>
<line x1="177.1" y1="405.6" x2="179.5" y2="405.6" stroke="#1c1c1c" stroke-width="1"/>
<text x="176.3" y="407.45" font-size="5.2" text-anchor="end" font-weight="bold">60</text>
<line x1="177.1" y1="423.03" x2="179.5" y2="423.03" stroke="#1c1c1c" stroke-width="1"/>
<text x="176.3" y="424.88" font-size="5.2" text-anchor="end" font-weight="bold">40</text>
<line x1="177.1" y1="440.47" x2="179.5" y2="440.47" stroke="#1c1c1c" stroke-width="1"/>
<text x="176.3" y="442.31" font-size="5.2" text-anchor="end" font-weight="bold">20</text>
<line x1="177.1" y1="457.9" x2="179.5" y2="457.9" stroke="#1c1c1c" stroke-width="1"/>
<text x="176.3" y="459.75" font-size="5.2" text-anchor="end" font-weight="bold">0</text>
<line x1="179" y1="457.5" x2="206.3" y2="457.5" stroke="#1c1c1c" stroke-width="1"/>
<rect x="183.95" y="410.05" width="6.4" height="47.85" fill="#fff" stroke="#dc4a62" stroke-width="1.3"/>
<rect x="194.8" y="427" width="6.5" height="30.9" fill="#fff" stroke="#a8a8a8" stroke-width="1.2"/>
<circle cx="184.9" cy="410.4" r="1.2" fill="#222"/>
<circle cx="187.1" cy="409.4" r="1.2" fill="#222"/>
<circle cx="189.4" cy="409.4" r="1.2" fill="#222"/>
<circle cx="195" cy="424.9" r="1.2" fill="#222"/>
<circle cx="195" cy="427.4" r="1.2" fill="#222"/>
<circle cx="200.9" cy="426.6" r="1.2" fill="#222"/>
<line x1="185.8" y1="406.5" x2="198.7" y2="406.5" stroke="#111" stroke-width="1"/>
<text x="192.25" y="407.28" font-size="8" text-anchor="middle" font-weight="bold" fill="#111" letter-spacing="0">****</text>
<text x="154.4" y="430.99" font-size="7" text-anchor="middle" stroke="#1a1a1a" stroke-width="0.1" transform="rotate(-90 154.4 428.5)">IFNγ Production</text>
<text x="162.7" y="430.99" font-size="7" text-anchor="middle" stroke="#1a1a1a" stroke-width="0.1" transform="rotate(-90 162.7 428.5)">(percentage of cells)</text>
<line x1="152.5" y1="467.5" x2="160.2" y2="467.5" stroke="#d13a58" stroke-width="1.8"/>
<text x="163" y="469.95" font-size="6.9" stroke="#1a1a1a" stroke-width="0.1">Ctrl shRNA+80%TCM</text>
<line x1="152.5" y1="475.2" x2="160.2" y2="475.2" stroke="#b4b4b4" stroke-width="1.8"/>
<text x="163" y="477.65" font-size="6.9" stroke="#1a1a1a" stroke-width="0.1">Acly shRNA+80%TCM</text>
<text x="256.2" y="400.6" font-size="14" font-weight="bold" fill="#000">M</text>
<text x="303.5" y="406.06" font-size="7.2" text-anchor="middle" stroke="#1a1a1a" stroke-width="0.1">IL12+80%TCM</text>
<text x="360.5" y="397.79" font-size="7.3" text-anchor="middle" stroke="#1a1a1a" stroke-width="0.1">IL12+BMS</text>
<text x="360.5" y="405.99" font-size="7.3" text-anchor="middle" stroke="#1a1a1a" stroke-width="0.1">+80%TCM</text>
<rect x="275.8" y="408.1" width="54.6" height="54.6" fill="#fff" stroke="#8a8a8a" stroke-width="0.6"/>
<line x1="274.6" y1="411.8" x2="275.8" y2="411.8" stroke="#999" stroke-width="0.4"/>
<line x1="270.8" y1="411.8" x2="273.6" y2="411.8" stroke="#bbb" stroke-width="0.8"/>
<line x1="274.6" y1="421.5" x2="275.8" y2="421.5" stroke="#999" stroke-width="0.4"/>
<line x1="270.8" y1="421.5" x2="273.6" y2="421.5" stroke="#bbb" stroke-width="0.8"/>
<line x1="274.6" y1="431.6" x2="275.8" y2="431.6" stroke="#999" stroke-width="0.4"/>
<line x1="270.8" y1="431.6" x2="273.6" y2="431.6" stroke="#bbb" stroke-width="0.8"/>
<line x1="274.6" y1="442" x2="275.8" y2="442" stroke="#999" stroke-width="0.4"/>
<line x1="270.8" y1="442" x2="273.6" y2="442" stroke="#bbb" stroke-width="0.8"/>
<line x1="274.6" y1="452.3" x2="275.8" y2="452.3" stroke="#999" stroke-width="0.4"/>
<line x1="270.8" y1="452.3" x2="273.6" y2="452.3" stroke="#bbb" stroke-width="0.8"/>
<line x1="274.6" y1="461.8" x2="275.8" y2="461.8" stroke="#999" stroke-width="0.4"/>
<line x1="270.8" y1="461.8" x2="273.6" y2="461.8" stroke="#bbb" stroke-width="0.8"/>
<line x1="283" y1="462.7" x2="283" y2="463.9" stroke="#999" stroke-width="0.4"/>
<text x="283" y="466.3" font-size="2.4" text-anchor="middle" fill="#aaa" transform="rotate(-45 283 466.3)">10<tspan font-size="1.8" dy="-0.8">3</tspan></text>
<line x1="293" y1="462.7" x2="293" y2="463.9" stroke="#999" stroke-width="0.4"/>
<text x="293" y="466.3" font-size="2.4" text-anchor="middle" fill="#aaa" transform="rotate(-45 293 466.3)">10<tspan font-size="1.8" dy="-0.8">3</tspan></text>
<line x1="305" y1="462.7" x2="305" y2="463.9" stroke="#999" stroke-width="0.4"/>
<text x="305" y="466.3" font-size="2.4" text-anchor="middle" fill="#aaa" transform="rotate(-45 305 466.3)">10<tspan font-size="1.8" dy="-0.8">3</tspan></text>
<line x1="318" y1="462.7" x2="318" y2="463.9" stroke="#999" stroke-width="0.4"/>
<text x="318" y="466.3" font-size="2.4" text-anchor="middle" fill="#aaa" transform="rotate(-45 318 466.3)">10<tspan font-size="1.8" dy="-0.8">3</tspan></text>
<line x1="327.5" y1="462.7" x2="327.5" y2="463.9" stroke="#999" stroke-width="0.4"/>
<text x="327.5" y="466.3" font-size="2.4" text-anchor="middle" fill="#aaa" transform="rotate(-45 327.5 466.3)">10<tspan font-size="1.8" dy="-0.8">3</tspan></text>
<g filter="url(#jet)">
<ellipse cx="292.6" cy="435" rx="6.6" ry="25" fill="url(#gd)" fill-opacity="0.3" transform="rotate(8 292.6 435)"/>
<ellipse cx="295" cy="421.5" rx="5.2" ry="8.5" fill="url(#gd)" fill-opacity="0.2" transform="rotate(8 295 421.5)"/>
<ellipse cx="289" cy="454" rx="3.8" ry="10.5" fill="url(#gd)" fill-opacity="0.95" transform="rotate(3 289 454)"/>
<ellipse cx="295.6" cy="452" rx="5" ry="12" fill="url(#gd)" fill-opacity="0.72" transform="rotate(14 295.6 452)"/>
<ellipse cx="300.2" cy="442" rx="4.4" ry="9" fill="url(#gd)" fill-opacity="0.26" transform="rotate(8 300.2 442)"/>
<ellipse cx="291.2" cy="445" rx="3" ry="8" fill="url(#gd)" fill-opacity="0.3" transform="rotate(5 291.2 445)"/>
<ellipse cx="292" cy="459.5" rx="4.5" ry="4" fill="url(#gd)" fill-opacity="0.45"/>
</g>
<path d="M284.2 462.2 L285.2 436 L287.5 417.5 L292.8 411.2 L302.4 415.2 L296 448 L294 462.2" fill="none" stroke="#777" stroke-width="0.6"/>
<rect x="283.6" y="439.2" width="12.6" height="7.6" fill="#e8f2f8" opacity="0.85"/>
<text x="289.9" y="445.34" font-size="6.6" text-anchor="middle" stroke="#1a1a1a" stroke-width="0.1">72.6</text>
<rect x="338" y="408.5" width="53.6" height="54.2" fill="#fff" stroke="#8a8a8a" stroke-width="0.6"/>
<line x1="336.8" y1="411.8" x2="338" y2="411.8" stroke="#999" stroke-width="0.4"/>
<line x1="333" y1="411.8" x2="335.8" y2="411.8" stroke="#bbb" stroke-width="0.8"/>
<line x1="336.8" y1="421.5" x2="338" y2="421.5" stroke="#999" stroke-width="0.4"/>
<line x1="333" y1="421.5" x2="335.8" y2="421.5" stroke="#bbb" stroke-width="0.8"/>
<line x1="336.8" y1="431.6" x2="338" y2="431.6" stroke="#999" stroke-width="0.4"/>
<line x1="333" y1="431.6" x2="335.8" y2="431.6" stroke="#bbb" stroke-width="0.8"/>
<line x1="336.8" y1="442" x2="338" y2="442" stroke="#999" stroke-width="0.4"/>
<line x1="333" y1="442" x2="335.8" y2="442" stroke="#bbb" stroke-width="0.8"/>
<line x1="336.8" y1="452.3" x2="338" y2="452.3" stroke="#999" stroke-width="0.4"/>
<line x1="333" y1="452.3" x2="335.8" y2="452.3" stroke="#bbb" stroke-width="0.8"/>
<line x1="336.8" y1="461.8" x2="338" y2="461.8" stroke="#999" stroke-width="0.4"/>
<line x1="333" y1="461.8" x2="335.8" y2="461.8" stroke="#bbb" stroke-width="0.8"/>
<line x1="345" y1="462.7" x2="345" y2="463.9" stroke="#999" stroke-width="0.4"/>
<text x="345" y="466.3" font-size="2.4" text-anchor="middle" fill="#aaa" transform="rotate(-45 345 466.3)">10<tspan font-size="1.8" dy="-0.8">3</tspan></text>
<line x1="355.5" y1="462.7" x2="355.5" y2="463.9" stroke="#999" stroke-width="0.4"/>
<text x="355.5" y="466.3" font-size="2.4" text-anchor="middle" fill="#aaa" transform="rotate(-45 355.5 466.3)">10<tspan font-size="1.8" dy="-0.8">3</tspan></text>
<line x1="366" y1="462.7" x2="366" y2="463.9" stroke="#999" stroke-width="0.4"/>
<text x="366" y="466.3" font-size="2.4" text-anchor="middle" fill="#aaa" transform="rotate(-45 366 466.3)">10<tspan font-size="1.8" dy="-0.8">3</tspan></text>
<line x1="377.5" y1="462.7" x2="377.5" y2="463.9" stroke="#999" stroke-width="0.4"/>
<text x="377.5" y="466.3" font-size="2.4" text-anchor="middle" fill="#aaa" transform="rotate(-45 377.5 466.3)">10<tspan font-size="1.8" dy="-0.8">3</tspan></text>
<line x1="388" y1="462.7" x2="388" y2="463.9" stroke="#999" stroke-width="0.4"/>
<text x="388" y="466.3" font-size="2.4" text-anchor="middle" fill="#aaa" transform="rotate(-45 388 466.3)">10<tspan font-size="1.8" dy="-0.8">3</tspan></text>
<g filter="url(#jet)">
<ellipse cx="352.8" cy="442.5" rx="4.4" ry="21.5" fill="url(#gd)" fill-opacity="0.28" transform="rotate(4 352.8 442.5)"/>
<ellipse cx="351.7" cy="455" rx="3.2" ry="7.5" fill="url(#gd)" fill-opacity="0.62" transform="rotate(2 351.7 455)"/>
<ellipse cx="364.6" cy="439.5" rx="6.8" ry="28" fill="url(#gd)" fill-opacity="0.36" transform="rotate(26 364.6 439.5)"/>
<ellipse cx="359" cy="453" rx="5" ry="10.5" fill="url(#gd)" fill-opacity="0.95" transform="rotate(22 359 453)"/>
<ellipse cx="362.5" cy="444" rx="3.5" ry="9" fill="url(#gd)" fill-opacity="0.3" transform="rotate(26 362.5 444)"/>
<ellipse cx="356.5" cy="458.5" rx="4.4" ry="4.5" fill="url(#gd)" fill-opacity="0.42"/>
</g>
<path d="M345.8 462.2 L346.6 432 L349.2 417.2 L356.6 409.6 L364.8 414.2 L358.8 440 L355.2 462.2" fill="none" stroke="#777" stroke-width="0.6"/>
<rect x="346.4" y="438.4" width="12.2" height="7.2" fill="#e8f2f8" opacity="0.85"/>
<text x="352.6" y="444.24" font-size="6.6" text-anchor="middle" stroke="#1a1a1a" stroke-width="0.1">27.0</text>
<text x="279.4" y="472.31" font-size="8.2" stroke="#1a1a1a" stroke-width="0.1">LIVE/DEAD</text>
<line x1="324.2" y1="470.6" x2="383" y2="470.6" stroke="#222" stroke-width="1.1"/>
<path d="M382 468.8 L386.4 470.6 L382 472.4 Z" fill="#111"/>
<line x1="425.5" y1="405.2" x2="425.5" y2="462.9" stroke="#1c1c1c" stroke-width="1"/>
<line x1="423.3" y1="405.2" x2="425.5" y2="405.2" stroke="#1c1c1c" stroke-width="1"/>
<text x="422.5" y="406.87" font-size="4.7" text-anchor="end" font-weight="bold">100</text>
<line x1="423.3" y1="416.74" x2="425.5" y2="416.74" stroke="#1c1c1c" stroke-width="1"/>
<text x="422.5" y="418.41" font-size="4.7" text-anchor="end" font-weight="bold">80</text>
<line x1="423.3" y1="428.28" x2="425.5" y2="428.28" stroke="#1c1c1c" stroke-width="1"/>
<text x="422.5" y="429.95" font-size="4.7" text-anchor="end" font-weight="bold">60</text>
<line x1="423.3" y1="439.82" x2="425.5" y2="439.82" stroke="#1c1c1c" stroke-width="1"/>
<text x="422.5" y="441.49" font-size="4.7" text-anchor="end" font-weight="bold">40</text>
<line x1="423.3" y1="451.36" x2="425.5" y2="451.36" stroke="#1c1c1c" stroke-width="1"/>
<text x="422.5" y="453.03" font-size="4.7" text-anchor="end" font-weight="bold">20</text>
<line x1="423.3" y1="462.9" x2="425.5" y2="462.9" stroke="#1c1c1c" stroke-width="1"/>
<text x="422.5" y="464.57" font-size="4.7" text-anchor="end" font-weight="bold">0</text>
<line x1="425" y1="462.5" x2="455.1" y2="462.5" stroke="#1c1c1c" stroke-width="1"/>
<rect x="430.55" y="419.12" width="7.6" height="43.78" fill="#fff" stroke="#9d66bd" stroke-width="1.3"/>
<rect x="443.75" y="444.22" width="8.3" height="18.68" fill="#fff" stroke="#111111" stroke-width="1.3"/>
<g stroke="#444" stroke-width="0.6" opacity="0.9"><line x1="434.3" y1="417.03" x2="434.3" y2="418.47"/><line x1="433.05" y1="417.03" x2="435.55" y2="417.03"/></g>
<g stroke="#222" stroke-width="0.7" opacity="0.9"><line x1="447.9" y1="439.53" x2="447.9" y2="443.57"/><line x1="446.4" y1="439.53" x2="449.4" y2="439.53"/></g>
<circle cx="432.5" cy="417.78" r="1.1" fill="#6a3a7a"/>
<circle cx="434.5" cy="419.34" r="1.1" fill="#6a3a7a"/>
<circle cx="436.2" cy="417.89" r="1.1" fill="#6a3a7a"/>
<circle cx="445.5" cy="440.4" r="1.1" fill="#111"/>
<circle cx="448" cy="442.99" r="1.1" fill="#111"/>
<circle cx="450" cy="441.84" r="1.1" fill="#111"/>
<circle cx="447.6" cy="446.17" r="1.1" fill="#111"/>
<line x1="434.7" y1="410.5" x2="450.8" y2="410.5" stroke="#111" stroke-width="1"/>
<text x="442.75" y="411.86" font-size="9.5" text-anchor="middle" font-weight="bold" fill="#111" letter-spacing="0.2">**</text>
<text x="401.1" y="439.56" font-size="7.2" text-anchor="middle" stroke="#1a1a1a" stroke-width="0.1" transform="rotate(-90 401.1 437)">Percentage</text>
<text x="409.8" y="439.56" font-size="7.2" text-anchor="middle" stroke="#1a1a1a" stroke-width="0.1" transform="rotate(-90 409.8 437)">of live cells</text>
<line x1="409.4" y1="470.9" x2="414.7" y2="470.9" stroke="#9d66bd" stroke-width="1.8"/>
<text x="416" y="473.31" font-size="6.8" stroke="#1a1a1a" stroke-width="0.1">IL12+80%TCM</text>
<line x1="409.4" y1="479" x2="414.7" y2="479" stroke="#111111" stroke-width="1.8"/>
<text x="416" y="481.41" font-size="6.8" stroke="#1a1a1a" stroke-width="0.1">IL12+BMS+80%TCM</text>
<text x="1.8" y="500.6" font-size="14" font-weight="bold" fill="#000">N</text>
<text x="52.8" y="504.16" font-size="7.2" text-anchor="middle" stroke="#1a1a1a" stroke-width="0.1">IL12+Ctrl shRNA</text>
<text x="51.7" y="512.46" font-size="7.5" text-anchor="middle" stroke="#1a1a1a" stroke-width="0.1">+80%TCM.</text>
<text x="118.2" y="504.16" font-size="7.2" text-anchor="middle" stroke="#1a1a1a" stroke-width="0.1">IL12+Acly shRNA</text>
<text x="118.2" y="512.46" font-size="7.5" text-anchor="middle" stroke="#1a1a1a" stroke-width="0.1">+80%TCM</text>
<rect x="25.1" y="514.3" width="53.6" height="54.8" fill="#fff" stroke="#8a8a8a" stroke-width="0.6"/>
<line x1="23.9" y1="518.5" x2="25.1" y2="518.5" stroke="#999" stroke-width="0.4"/>
<line x1="20.1" y1="518.5" x2="22.9" y2="518.5" stroke="#bbb" stroke-width="0.8"/>
<line x1="23.9" y1="528.5" x2="25.1" y2="528.5" stroke="#999" stroke-width="0.4"/>
<line x1="20.1" y1="528.5" x2="22.9" y2="528.5" stroke="#bbb" stroke-width="0.8"/>
<line x1="23.9" y1="539" x2="25.1" y2="539" stroke="#999" stroke-width="0.4"/>
<line x1="20.1" y1="539" x2="22.9" y2="539" stroke="#bbb" stroke-width="0.8"/>
<line x1="23.9" y1="549.5" x2="25.1" y2="549.5" stroke="#999" stroke-width="0.4"/>
<line x1="20.1" y1="549.5" x2="22.9" y2="549.5" stroke="#bbb" stroke-width="0.8"/>
<line x1="23.9" y1="559.5" x2="25.1" y2="559.5" stroke="#999" stroke-width="0.4"/>
<line x1="20.1" y1="559.5" x2="22.9" y2="559.5" stroke="#bbb" stroke-width="0.8"/>
<line x1="23.9" y1="568.5" x2="25.1" y2="568.5" stroke="#999" stroke-width="0.4"/>
<line x1="20.1" y1="568.5" x2="22.9" y2="568.5" stroke="#bbb" stroke-width="0.8"/>
<line x1="31" y1="569.1" x2="31" y2="570.3" stroke="#999" stroke-width="0.4"/>
<text x="31" y="572.7" font-size="2.4" text-anchor="middle" fill="#aaa" transform="rotate(-45 31 572.7)">10<tspan font-size="1.8" dy="-0.8">3</tspan></text>
<line x1="41.5" y1="569.1" x2="41.5" y2="570.3" stroke="#999" stroke-width="0.4"/>
<text x="41.5" y="572.7" font-size="2.4" text-anchor="middle" fill="#aaa" transform="rotate(-45 41.5 572.7)">10<tspan font-size="1.8" dy="-0.8">3</tspan></text>
<line x1="52" y1="569.1" x2="52" y2="570.3" stroke="#999" stroke-width="0.4"/>
<text x="52" y="572.7" font-size="2.4" text-anchor="middle" fill="#aaa" transform="rotate(-45 52 572.7)">10<tspan font-size="1.8" dy="-0.8">3</tspan></text>
<line x1="63" y1="569.1" x2="63" y2="570.3" stroke="#999" stroke-width="0.4"/>
<text x="63" y="572.7" font-size="2.4" text-anchor="middle" fill="#aaa" transform="rotate(-45 63 572.7)">10<tspan font-size="1.8" dy="-0.8">3</tspan></text>
<line x1="75" y1="569.1" x2="75" y2="570.3" stroke="#999" stroke-width="0.4"/>
<text x="75" y="572.7" font-size="2.4" text-anchor="middle" fill="#aaa" transform="rotate(-45 75 572.7)">10<tspan font-size="1.8" dy="-0.8">3</tspan></text>
<g filter="url(#jet)">
<ellipse cx="38.2" cy="555.5" rx="5.8" ry="14.5" fill="url(#gd)" fill-opacity="0.8" transform="rotate(6 38.2 555.5)"/>
<ellipse cx="37.9" cy="557.8" rx="3" ry="5" fill="url(#gd)" fill-opacity="0.8"/>
<ellipse cx="48.3" cy="555" rx="6" ry="13.5" fill="url(#gd)" fill-opacity="0.62" transform="rotate(28 48.3 555)"/>
<ellipse cx="44" cy="563" rx="4" ry="4" fill="url(#gd)" fill-opacity="0.3"/>
</g>
<path d="M33.6 568.6 L34.4 537.6 L38.9 533.4 L45.8 539.6 L44.4 551 L43.4 568.6" fill="none" stroke="#888" stroke-width="0.6"/>
<text x="54.8" y="535.21" font-size="6.8" text-anchor="middle" stroke="#1a1a1a" stroke-width="0.1">61.6</text>
<rect x="89.2" y="513.7" width="55" height="54.9" fill="#fff" stroke="#8a8a8a" stroke-width="0.6"/>
<line x1="88" y1="518" x2="89.2" y2="518" stroke="#999" stroke-width="0.4"/>
<line x1="84.2" y1="518" x2="87" y2="518" stroke="#bbb" stroke-width="0.8"/>
<line x1="88" y1="528" x2="89.2" y2="528" stroke="#999" stroke-width="0.4"/>
<line x1="84.2" y1="528" x2="87" y2="528" stroke="#bbb" stroke-width="0.8"/>
<line x1="88" y1="538.5" x2="89.2" y2="538.5" stroke="#999" stroke-width="0.4"/>
<line x1="84.2" y1="538.5" x2="87" y2="538.5" stroke="#bbb" stroke-width="0.8"/>
<line x1="88" y1="549" x2="89.2" y2="549" stroke="#999" stroke-width="0.4"/>
<line x1="84.2" y1="549" x2="87" y2="549" stroke="#bbb" stroke-width="0.8"/>
<line x1="88" y1="559" x2="89.2" y2="559" stroke="#999" stroke-width="0.4"/>
<line x1="84.2" y1="559" x2="87" y2="559" stroke="#bbb" stroke-width="0.8"/>
<line x1="88" y1="568" x2="89.2" y2="568" stroke="#999" stroke-width="0.4"/>
<line x1="84.2" y1="568" x2="87" y2="568" stroke="#bbb" stroke-width="0.8"/>
<line x1="95" y1="568.6" x2="95" y2="569.8" stroke="#999" stroke-width="0.4"/>
<text x="95" y="572.2" font-size="2.4" text-anchor="middle" fill="#aaa" transform="rotate(-45 95 572.2)">10<tspan font-size="1.8" dy="-0.8">3</tspan></text>
<line x1="105.5" y1="568.6" x2="105.5" y2="569.8" stroke="#999" stroke-width="0.4"/>
<text x="105.5" y="572.2" font-size="2.4" text-anchor="middle" fill="#aaa" transform="rotate(-45 105.5 572.2)">10<tspan font-size="1.8" dy="-0.8">3</tspan></text>
<line x1="116" y1="568.6" x2="116" y2="569.8" stroke="#999" stroke-width="0.4"/>
<text x="116" y="572.2" font-size="2.4" text-anchor="middle" fill="#aaa" transform="rotate(-45 116 572.2)">10<tspan font-size="1.8" dy="-0.8">3</tspan></text>
<line x1="127" y1="568.6" x2="127" y2="569.8" stroke="#999" stroke-width="0.4"/>
<text x="127" y="572.2" font-size="2.4" text-anchor="middle" fill="#aaa" transform="rotate(-45 127 572.2)">10<tspan font-size="1.8" dy="-0.8">3</tspan></text>
<line x1="139" y1="568.6" x2="139" y2="569.8" stroke="#999" stroke-width="0.4"/>
<text x="139" y="572.2" font-size="2.4" text-anchor="middle" fill="#aaa" transform="rotate(-45 139 572.2)">10<tspan font-size="1.8" dy="-0.8">3</tspan></text>
<g filter="url(#jet)">
<ellipse cx="103.4" cy="555.5" rx="5.6" ry="14" fill="url(#gd)" fill-opacity="0.6" transform="rotate(8 103.4 555.5)"/>
<ellipse cx="113.8" cy="555" rx="6.2" ry="13.5" fill="url(#gd)" fill-opacity="0.72" transform="rotate(30 113.8 555)"/>
<ellipse cx="113.7" cy="554.8" rx="3" ry="5" fill="url(#gd)" fill-opacity="0.6" transform="rotate(30 113.7 554.8)"/>
<ellipse cx="108" cy="563" rx="4" ry="4" fill="url(#gd)" fill-opacity="0.3"/>
</g>
<path d="M97.2 566 L97.6 545 L101.8 533.6 L110.4 540.6 L108.6 546 L105.4 566" fill="none" stroke="#888" stroke-width="0.6"/>
<text x="119.4" y="535.21" font-size="6.8" text-anchor="middle" stroke="#1a1a1a" stroke-width="0.1">38.8</text>
<text x="27.8" y="579.91" font-size="8.2" stroke="#1a1a1a" stroke-width="0.1">LIVE/DEAD</text>
<line x1="72.7" y1="577.4" x2="130.5" y2="577.4" stroke="#222" stroke-width="1.1"/>
<path d="M129.5 575.6 L134 577.4 L129.5 579.2 Z" fill="#111"/>
<line x1="177.5" y1="514.6" x2="177.5" y2="565" stroke="#1c1c1c" stroke-width="1"/>
<line x1="175.1" y1="514.6" x2="177.5" y2="514.6" stroke="#1c1c1c" stroke-width="1"/>
<text x="174.3" y="516.45" font-size="5.2" text-anchor="end" font-weight="bold">80</text>
<line x1="175.1" y1="527.2" x2="177.5" y2="527.2" stroke="#1c1c1c" stroke-width="1"/>
<text x="174.3" y="529.05" font-size="5.2" text-anchor="end" font-weight="bold">60</text>
<line x1="175.1" y1="539.8" x2="177.5" y2="539.8" stroke="#1c1c1c" stroke-width="1"/>
<text x="174.3" y="541.65" font-size="5.2" text-anchor="end" font-weight="bold">40</text>
<line x1="175.1" y1="552.4" x2="177.5" y2="552.4" stroke="#1c1c1c" stroke-width="1"/>
<text x="174.3" y="554.25" font-size="5.2" text-anchor="end" font-weight="bold">20</text>
<line x1="175.1" y1="565" x2="177.5" y2="565" stroke="#1c1c1c" stroke-width="1"/>
<text x="174.3" y="566.85" font-size="5.2" text-anchor="end" font-weight="bold">0</text>
<line x1="177" y1="565.5" x2="201.7" y2="565.5" stroke="#1c1c1c" stroke-width="1"/>
<rect x="181.25" y="526.65" width="5.8" height="38.35" fill="#fff" stroke="#e25a5e" stroke-width="1.3"/>
<rect x="192.7" y="541.6" width="5.5" height="23.4" fill="#fff" stroke="#9a9a9a" stroke-width="1.2"/>
<circle cx="184.4" cy="525" r="1.25" fill="#222"/>
<circle cx="181.9" cy="526.3" r="1.25" fill="#222"/>
<circle cx="186.9" cy="526.3" r="1.25" fill="#222"/>
<circle cx="195" cy="537.5" r="1.25" fill="#222"/>
<circle cx="193.1" cy="541.3" r="1.25" fill="#222"/>
<circle cx="198.1" cy="541" r="1.25" fill="#222"/>
<line x1="182.5" y1="520.5" x2="197.3" y2="520.5" stroke="#111" stroke-width="1"/>
<text x="189.9" y="520.97" font-size="9" text-anchor="middle" font-weight="bold" fill="#111" letter-spacing="0.2">**</text>
<text x="152.7" y="544.56" font-size="7.2" text-anchor="middle" stroke="#1a1a1a" stroke-width="0.1" transform="rotate(-90 152.7 542)">Percentage</text>
<text x="162.3" y="544.56" font-size="7.2" text-anchor="middle" stroke="#1a1a1a" stroke-width="0.1" transform="rotate(-90 162.3 542)">of live cells</text>
<line x1="151.7" y1="576.9" x2="160.4" y2="576.9" stroke="#c8283c" stroke-width="2"/>
<text x="163.1" y="579.35" font-size="6.9" stroke="#1a1a1a" stroke-width="0.1">Ctrl shRNA+80%TCM</text>
<line x1="151.7" y1="585.7" x2="160.4" y2="585.7" stroke="#8a9098" stroke-width="2"/>
<text x="163.1" y="588.15" font-size="6.9" stroke="#1a1a1a" stroke-width="0.1">Acly shRNA+80%TCM</text>
<text x="245.6" y="506.4" font-size="14" font-weight="bold" fill="#000">O</text>
<text x="287.5" y="511.81" font-size="6.8" text-anchor="middle" font-style="italic" stroke="#1a1a1a" stroke-width="0.1">Srebp1</text>
<line x1="275.5" y1="519.7" x2="275.5" y2="569.2" stroke="#1c1c1c" stroke-width="1"/>
<line x1="272.9" y1="519.7" x2="275.5" y2="519.7" stroke="#1c1c1c" stroke-width="1"/>
<text x="272.1" y="521.58" font-size="5.3" text-anchor="end" font-weight="bold">2.0</text>
<line x1="272.9" y1="532.08" x2="275.5" y2="532.08" stroke="#1c1c1c" stroke-width="1"/>
<text x="272.1" y="533.96" font-size="5.3" text-anchor="end" font-weight="bold">1.5</text>
<line x1="272.9" y1="544.45" x2="275.5" y2="544.45" stroke="#1c1c1c" stroke-width="1"/>
<text x="272.1" y="546.33" font-size="5.3" text-anchor="end" font-weight="bold">1.0</text>
<line x1="272.9" y1="556.83" x2="275.5" y2="556.83" stroke="#1c1c1c" stroke-width="1"/>
<text x="272.1" y="558.71" font-size="5.3" text-anchor="end" font-weight="bold">0.5</text>
<line x1="272.9" y1="569.2" x2="275.5" y2="569.2" stroke="#1c1c1c" stroke-width="1"/>
<text x="272.1" y="571.08" font-size="5.3" text-anchor="end" font-weight="bold">0.0</text>
<line x1="275" y1="569.5" x2="299" y2="569.5" stroke="#1c1c1c" stroke-width="1"/>
<line x1="282.2" y1="569.5" x2="282.2" y2="571" stroke="#1c1c1c" stroke-width="1"/>
<line x1="292.7" y1="569.5" x2="292.7" y2="571" stroke="#1c1c1c" stroke-width="1"/>
<g stroke="#6a7cc0" stroke-width="0.7" opacity="0.9"><line x1="282" y1="543.3" x2="282" y2="547.2"/><line x1="280.7" y1="543.3" x2="283.3" y2="543.3"/></g>
<g stroke="#ec6f78" stroke-width="0.7" opacity="0.9"><line x1="292.9" y1="534.2" x2="292.9" y2="535.6"/><line x1="291.6" y1="534.2" x2="294.2" y2="534.2"/></g>
<rect x="278.85" y="547.85" width="6.2" height="21.35" fill="#fff" stroke="#5b6fb5" stroke-width="1.3"/>
<rect x="290.25" y="536.25" width="5.3" height="32.95" fill="#fff" stroke="#ee4b55" stroke-width="1.3"/>
<line x1="279.4" y1="530.5" x2="295.2" y2="530.5" stroke="#111" stroke-width="1"/>
<text x="287.3" y="529.89" font-size="7.5" text-anchor="middle" font-weight="bold" fill="#111" letter-spacing="0.2">*</text>
<text x="257.6" y="547.4" font-size="7.6" text-anchor="middle" stroke="#1a1a1a" stroke-width="0.1" transform="rotate(-90 257.6 544.7)">Fold change</text>
<text x="283.2" y="576.4" font-size="6.4" text-anchor="end" transform="rotate(-45 283.2 576.4)" fill="#1a1a1a">IL2</text>
<text x="294.4" y="576.6" font-size="6.4" text-anchor="end" transform="rotate(-45 294.4 576.6)" fill="#1a1a1a">IL12</text>
<text x="327.4" y="506.8" font-size="14" font-weight="bold" fill="#000">P</text>
<text x="357.3" y="509.31" font-size="6.8" text-anchor="middle" font-style="italic" stroke="#1a1a1a" stroke-width="0.1">Fasn</text>
<line x1="345.5" y1="517.3" x2="345.5" y2="566.9" stroke="#1c1c1c" stroke-width="1"/>
<line x1="342.9" y1="517.3" x2="345.5" y2="517.3" stroke="#1c1c1c" stroke-width="1"/>
<text x="342.1" y="519.18" font-size="5.3" text-anchor="end" font-weight="bold">3</text>
<line x1="342.9" y1="533.83" x2="345.5" y2="533.83" stroke="#1c1c1c" stroke-width="1"/>
<text x="342.1" y="535.71" font-size="5.3" text-anchor="end" font-weight="bold">2</text>
<line x1="342.9" y1="550.37" x2="345.5" y2="550.37" stroke="#1c1c1c" stroke-width="1"/>
<text x="342.1" y="552.25" font-size="5.3" text-anchor="end" font-weight="bold">1</text>
<line x1="342.9" y1="566.9" x2="345.5" y2="566.9" stroke="#1c1c1c" stroke-width="1"/>
<text x="342.1" y="568.78" font-size="5.3" text-anchor="end" font-weight="bold">0</text>
<line x1="345" y1="566.5" x2="368.5" y2="566.5" stroke="#1c1c1c" stroke-width="1"/>
<line x1="351.6" y1="566.5" x2="351.6" y2="568" stroke="#1c1c1c" stroke-width="1"/>
<line x1="363.1" y1="566.5" x2="363.1" y2="568" stroke="#1c1c1c" stroke-width="1"/>
<g stroke="#ec6f78" stroke-width="0.7" opacity="0.9"><line x1="363.1" y1="524.7" x2="363.1" y2="529.3"/><line x1="361.8" y1="524.7" x2="364.4" y2="524.7"/></g>
<rect x="348.85" y="552.15" width="5.6" height="14.75" fill="#fff" stroke="#5b6fb5" stroke-width="1.3"/>
<rect x="360.35" y="529.95" width="5.6" height="36.95" fill="#fff" stroke="#ee4b55" stroke-width="1.3"/>
<line x1="351.6" y1="550.2" x2="351.6" y2="551.5" stroke="#6a7cc0" stroke-width="0.6"/>
<line x1="348.8" y1="521.5" x2="365" y2="521.5" stroke="#111" stroke-width="1"/>
<text x="356.9" y="521.18" font-size="8" text-anchor="middle" font-weight="bold" fill="#111" letter-spacing="0.2">*</text>
<text x="331.1" y="546" font-size="7.6" text-anchor="middle" stroke="#1a1a1a" stroke-width="0.1" transform="rotate(-90 331.1 543.3)">Fold change</text>
<text x="353.8" y="573.8" font-size="6.4" text-anchor="end" transform="rotate(-45 353.8 573.8)" fill="#1a1a1a">IL2</text>
<text x="365.8" y="574" font-size="6.4" text-anchor="end" transform="rotate(-45 365.8 574)" fill="#1a1a1a">IL12</text>
<text x="410.6" y="509.46" font-size="7.2" text-anchor="middle" font-style="italic" stroke="#1a1a1a" stroke-width="0.1">Acaca1</text>
<line x1="397.5" y1="518" x2="397.5" y2="566.9" stroke="#1c1c1c" stroke-width="1"/>
<line x1="394.9" y1="518" x2="397.5" y2="518" stroke="#1c1c1c" stroke-width="1"/>
<text x="394.1" y="519.88" font-size="5.3" text-anchor="end" font-weight="bold">2.0</text>
<line x1="394.9" y1="530.23" x2="397.5" y2="530.23" stroke="#1c1c1c" stroke-width="1"/>
<text x="394.1" y="532.11" font-size="5.3" text-anchor="end" font-weight="bold">1.5</text>
<line x1="394.9" y1="542.45" x2="397.5" y2="542.45" stroke="#1c1c1c" stroke-width="1"/>
<text x="394.1" y="544.33" font-size="5.3" text-anchor="end" font-weight="bold">1.0</text>
<line x1="394.9" y1="554.67" x2="397.5" y2="554.67" stroke="#1c1c1c" stroke-width="1"/>
<text x="394.1" y="556.56" font-size="5.3" text-anchor="end" font-weight="bold">0.5</text>
<line x1="394.9" y1="566.9" x2="397.5" y2="566.9" stroke="#1c1c1c" stroke-width="1"/>
<text x="394.1" y="568.78" font-size="5.3" text-anchor="end" font-weight="bold">0.0</text>
<line x1="397" y1="566.5" x2="422.7" y2="566.5" stroke="#1c1c1c" stroke-width="1"/>
<line x1="403" y1="566.5" x2="403" y2="568" stroke="#1c1c1c" stroke-width="1"/>
<line x1="417" y1="566.5" x2="417" y2="568" stroke="#1c1c1c" stroke-width="1"/>
<g stroke="#6a7cc0" stroke-width="0.7" opacity="0.9"><line x1="403" y1="541.5" x2="403" y2="545"/><line x1="401.7" y1="541.5" x2="404.3" y2="541.5"/></g>
<g stroke="#ec6f78" stroke-width="0.7" opacity="0.9"><line x1="417" y1="531.6" x2="417" y2="535.3"/><line x1="415.7" y1="531.6" x2="418.3" y2="531.6"/></g>
<rect x="400.25" y="545.65" width="5.6" height="21.25" fill="#fff" stroke="#5b6fb5" stroke-width="1.3"/>
<rect x="414.15" y="535.95" width="5.6" height="30.95" fill="#fff" stroke="#ee4b55" stroke-width="1.3"/>
<text x="381.2" y="546" font-size="7.6" text-anchor="middle" stroke="#1a1a1a" stroke-width="0.1" transform="rotate(-90 381.2 543.3)">Fold change</text>
<text x="405.4" y="573.8" font-size="6.4" text-anchor="end" transform="rotate(-45 405.4 573.8)" fill="#1a1a1a">IL2</text>
<text x="419.4" y="574" font-size="6.4" text-anchor="end" transform="rotate(-45 419.4 574)" fill="#1a1a1a">IL12</text>
<text x="448" y="509.4" font-size="14" font-weight="bold" fill="#000">Q</text>
<line x1="478.5" y1="510.6" x2="478.5" y2="568" stroke="#1c1c1c" stroke-width="1"/>
<line x1="475.5" y1="510.6" x2="478.5" y2="510.6" stroke="#1c1c1c" stroke-width="1"/>
<text x="474.7" y="512.62" font-size="5.7" text-anchor="end" font-weight="bold">800</text>
<line x1="475.5" y1="524.95" x2="478.5" y2="524.95" stroke="#1c1c1c" stroke-width="1"/>
<text x="474.7" y="526.97" font-size="5.7" text-anchor="end" font-weight="bold">600</text>
<line x1="475.5" y1="539.3" x2="478.5" y2="539.3" stroke="#1c1c1c" stroke-width="1"/>
<text x="474.7" y="541.32" font-size="5.7" text-anchor="end" font-weight="bold">400</text>
<line x1="475.5" y1="553.65" x2="478.5" y2="553.65" stroke="#1c1c1c" stroke-width="1"/>
<text x="474.7" y="555.67" font-size="5.7" text-anchor="end" font-weight="bold">200</text>
<line x1="475.5" y1="568" x2="478.5" y2="568" stroke="#1c1c1c" stroke-width="1"/>
<text x="474.7" y="570.02" font-size="5.7" text-anchor="end" font-weight="bold">0</text>
<line x1="478" y1="568.5" x2="507" y2="568.5" stroke="#1c1c1c" stroke-width="1"/>
<line x1="486.8" y1="568.5" x2="486.8" y2="570" stroke="#1c1c1c" stroke-width="1"/>
<line x1="499" y1="568.5" x2="499" y2="570" stroke="#1c1c1c" stroke-width="1"/>
<rect x="483.7" y="536.7" width="6.2" height="31.3" fill="#fff" stroke="#3a4ea8" stroke-width="1.4"/>
<rect x="495.75" y="524.75" width="6.4" height="43.25" fill="#fff" stroke="#ea6a70" stroke-width="1.3"/>
<circle cx="483.6" cy="536.3" r="1.35" fill="#111"/>
<circle cx="487" cy="533.4" r="1.35" fill="#111"/>
<circle cx="490" cy="536.3" r="1.35" fill="#111"/>
<circle cx="496.2" cy="524.2" r="1.35" fill="#111"/>
<circle cx="499" cy="528.8" r="1.35" fill="#111"/>
<circle cx="501.8" cy="524.2" r="1.35" fill="#111"/>
<line x1="484.5" y1="517.5" x2="500.9" y2="517.5" stroke="#111" stroke-width="1"/>
<text x="492.7" y="517.75" font-size="10" text-anchor="middle" font-weight="bold" fill="#111" letter-spacing="0.2">**</text>
<text x="456" y="541.63" font-size="7.4" text-anchor="middle" stroke="#1a1a1a" stroke-width="0.1" transform="rotate(-90 456 539)">Bodipy MFI</text>
<text x="488.4" y="574.6" font-size="6.4" text-anchor="end" transform="rotate(-45 488.4 574.6)" fill="#1a1a1a">IL2</text>
<text x="501" y="574.8" font-size="6.4" text-anchor="end" transform="rotate(-45 501 574.8)" fill="#1a1a1a">IL12</text>
<text x="1.8" y="611.8" font-size="14" font-weight="bold" fill="#000">R</text>
<line x1="42.5" y1="617.1" x2="42.5" y2="682.4" stroke="#1c1c1c" stroke-width="1"/>
<line x1="39.1" y1="617.1" x2="42.5" y2="617.1" stroke="#1c1c1c" stroke-width="1"/>
<text x="38.3" y="619.16" font-size="5.8" text-anchor="end" font-weight="bold">1,500</text>
<line x1="39.1" y1="638.87" x2="42.5" y2="638.87" stroke="#1c1c1c" stroke-width="1"/>
<text x="38.3" y="640.93" font-size="5.8" text-anchor="end" font-weight="bold">1,000</text>
<line x1="39.1" y1="660.63" x2="42.5" y2="660.63" stroke="#1c1c1c" stroke-width="1"/>
<text x="38.3" y="662.69" font-size="5.8" text-anchor="end" font-weight="bold">500</text>
<line x1="39.1" y1="682.4" x2="42.5" y2="682.4" stroke="#1c1c1c" stroke-width="1"/>
<text x="38.3" y="684.46" font-size="5.8" text-anchor="end" font-weight="bold">0</text>
<line x1="42" y1="682.5" x2="73" y2="682.5" stroke="#1c1c1c" stroke-width="1"/>
<rect x="47.25" y="636.15" width="8.3" height="46.25" fill="#fff" stroke="#3a9a68" stroke-width="1.3"/>
<rect x="61.15" y="640.65" width="7.1" height="41.75" fill="#fff" stroke="#8e4a9c" stroke-width="1.3"/>
<line x1="48" y1="635.6" x2="55" y2="635.6" stroke="#9ad0b0" stroke-width="0.8"/>
<circle cx="47.7" cy="633.9" r="1.25" fill="#111"/>
<circle cx="47.7" cy="637.1" r="1.25" fill="#111"/>
<circle cx="54.7" cy="636" r="1.25" fill="#111"/>
<circle cx="61.5" cy="640.7" r="1.25" fill="#111"/>
<circle cx="64.6" cy="639.9" r="1.25" fill="#111"/>
<circle cx="67.6" cy="640" r="1.25" fill="#111"/>
<line x1="48.7" y1="628.5" x2="66.6" y2="628.5" stroke="#111" stroke-width="1"/>
<text x="57.65" y="628.37" font-size="8.5" text-anchor="middle" font-weight="bold" fill="#111" letter-spacing="0.2">*</text>
<text x="14.8" y="653.49" font-size="7" text-anchor="middle" fill="#333" stroke="#333" stroke-width="0.1" transform="rotate(-90 14.8 651)">Bodipy MFI</text>
<line x1="17.3" y1="693.2" x2="25.4" y2="693.2" stroke="#2aa868" stroke-width="2"/>
<text x="27.3" y="695.69" font-size="7" stroke="#1a1a1a" stroke-width="0.1">IL2+80%TCM</text>
<line x1="17.3" y1="702.1" x2="25.4" y2="702.1" stroke="#9a3c96" stroke-width="2"/>
<text x="27.3" y="704.59" font-size="7" stroke="#1a1a1a" stroke-width="0.1">IL12+80%TCM</text>
<text x="88" y="611.6" font-size="14" font-weight="bold" fill="#000">S</text>
<line x1="122.5" y1="618.1" x2="122.5" y2="681.4" stroke="#1c1c1c" stroke-width="1"/>
<line x1="118.9" y1="618.1" x2="122.5" y2="618.1" stroke="#1c1c1c" stroke-width="1"/>
<text x="118.1" y="620.16" font-size="5.8" text-anchor="end" font-weight="bold">2,000</text>
<line x1="118.9" y1="633.92" x2="122.5" y2="633.92" stroke="#1c1c1c" stroke-width="1"/>
<text x="118.1" y="635.98" font-size="5.8" text-anchor="end" font-weight="bold">1,500</text>
<line x1="118.9" y1="649.75" x2="122.5" y2="649.75" stroke="#1c1c1c" stroke-width="1"/>
<text x="118.1" y="651.81" font-size="5.8" text-anchor="end" font-weight="bold">1,000</text>
<line x1="118.9" y1="665.58" x2="122.5" y2="665.58" stroke="#1c1c1c" stroke-width="1"/>
<text x="118.1" y="667.63" font-size="5.8" text-anchor="end" font-weight="bold">500</text>
<line x1="118.9" y1="681.4" x2="122.5" y2="681.4" stroke="#1c1c1c" stroke-width="1"/>
<text x="118.1" y="683.46" font-size="5.8" text-anchor="end" font-weight="bold">0</text>
<line x1="122" y1="681.5" x2="153.8" y2="681.5" stroke="#1c1c1c" stroke-width="1"/>
<rect x="127.75" y="651.35" width="7.5" height="30.05" fill="#fff" stroke="#8a5c9c" stroke-width="1.1"/>
<rect x="141.25" y="633.35" width="6.9" height="48.05" fill="#fff" stroke="#111111" stroke-width="1.5"/>
<circle cx="129" cy="650.22" r="1.1" fill="#111"/>
<circle cx="131.3" cy="650.07" r="1.1" fill="#111"/>
<circle cx="133.6" cy="650.07" r="1.1" fill="#111"/>
<circle cx="142.2" cy="631.55" r="1.2" fill="#111"/>
<circle cx="144.6" cy="633.29" r="1.2" fill="#111"/>
<circle cx="147" cy="631.87" r="1.2" fill="#111"/>
<line x1="129.4" y1="626.5" x2="147.4" y2="626.5" stroke="#111" stroke-width="1"/>
<text x="138.4" y="626.87" font-size="9" text-anchor="middle" font-weight="bold" fill="#111" letter-spacing="0.2">**</text>
<text x="93.5" y="653.28" font-size="7" text-anchor="middle" fill="#333" stroke="#333" stroke-width="0.1" transform="rotate(-90 93.5 650.8)">Bodipy MFI</text>
<line x1="132.6" y1="693.2" x2="140.4" y2="693.2" stroke="#9d66bd" stroke-width="1.8"/>
<text x="142.3" y="695.69" font-size="7" stroke="#1a1a1a" stroke-width="0.1">IL12+80%TCM</text>
<line x1="132.6" y1="701.7" x2="140.4" y2="701.7" stroke="#111111" stroke-width="1.8"/>
<text x="142.3" y="704.19" font-size="7" stroke="#1a1a1a" stroke-width="0.1">IL12+80%TCM+ORLI</text>
<text x="165.8" y="611.6" font-size="14" font-weight="bold" fill="#000">T</text>
<line x1="189.5" y1="624.3" x2="189.5" y2="680.5" stroke="#1c1c1c" stroke-width="1"/>
<line x1="186.3" y1="624.3" x2="189.5" y2="624.3" stroke="#1c1c1c" stroke-width="1"/>
<text x="185.5" y="626.29" font-size="5.6" text-anchor="end" font-weight="bold">100</text>
<line x1="186.3" y1="635.54" x2="189.5" y2="635.54" stroke="#1c1c1c" stroke-width="1"/>
<text x="185.5" y="637.53" font-size="5.6" text-anchor="end" font-weight="bold">80</text>
<line x1="186.3" y1="646.78" x2="189.5" y2="646.78" stroke="#1c1c1c" stroke-width="1"/>
<text x="185.5" y="648.77" font-size="5.6" text-anchor="end" font-weight="bold">60</text>
<line x1="186.3" y1="658.02" x2="189.5" y2="658.02" stroke="#1c1c1c" stroke-width="1"/>
<text x="185.5" y="660.01" font-size="5.6" text-anchor="end" font-weight="bold">40</text>
<line x1="186.3" y1="669.26" x2="189.5" y2="669.26" stroke="#1c1c1c" stroke-width="1"/>
<text x="185.5" y="671.25" font-size="5.6" text-anchor="end" font-weight="bold">20</text>
<line x1="186.3" y1="680.5" x2="189.5" y2="680.5" stroke="#1c1c1c" stroke-width="1"/>
<text x="185.5" y="682.49" font-size="5.6" text-anchor="end" font-weight="bold">0</text>
<line x1="189" y1="680.5" x2="217.5" y2="680.5" stroke="#1c1c1c" stroke-width="1"/>
<g stroke="#555" stroke-width="0.6" opacity="0.9"><line x1="197" y1="632.73" x2="197" y2="637.79"/><line x1="195.6" y1="632.73" x2="198.4" y2="632.73"/></g>
<rect x="193.45" y="638.44" width="7.2" height="42.06" fill="#fff" stroke="#9d66bd" stroke-width="1.3"/>
<rect x="207.65" y="647.71" width="7.1" height="32.79" fill="#fff" stroke="#111111" stroke-width="1.3"/>
<circle cx="196.9" cy="634.13" r="1.1" fill="#111"/>
<circle cx="194.8" cy="638.91" r="1.1" fill="#111"/>
<circle cx="199.2" cy="638.35" r="1.1" fill="#111"/>
<circle cx="209" cy="647" r="0.9" fill="#111"/>
<circle cx="211.2" cy="646.89" r="0.9" fill="#111"/>
<circle cx="213.4" cy="647.12" r="0.9" fill="#111"/>
<line x1="194.3" y1="627.5" x2="213.9" y2="627.5" stroke="#111" stroke-width="1"/>
<text x="204.1" y="628.46" font-size="9.5" text-anchor="middle" font-weight="bold" fill="#111" letter-spacing="0.2">*</text>
<text x="163.8" y="654.56" font-size="7.2" text-anchor="middle" stroke="#1a1a1a" stroke-width="0.1" transform="rotate(-90 163.8 652)">Percentage</text>
<text x="172.7" y="654.56" font-size="7.2" text-anchor="middle" stroke="#1a1a1a" stroke-width="0.1" transform="rotate(-90 172.7 652)">of live cells</text>
<text x="234" y="611.6" font-size="14" font-weight="bold" fill="#000">U</text>
<line x1="285.5" y1="618.8" x2="285.5" y2="681.3" stroke="#1c1c1c" stroke-width="1"/>
<line x1="282.3" y1="618.6" x2="285.5" y2="618.6" stroke="#1c1c1c" stroke-width="1"/>
<text x="281.5" y="620.69" font-size="5.9" text-anchor="end" font-weight="bold">500,000</text>
<line x1="282.3" y1="631.16" x2="285.5" y2="631.16" stroke="#1c1c1c" stroke-width="1"/>
<text x="281.5" y="633.25" font-size="5.9" text-anchor="end" font-weight="bold">400,000</text>
<line x1="282.3" y1="643.72" x2="285.5" y2="643.72" stroke="#1c1c1c" stroke-width="1"/>
<text x="281.5" y="645.81" font-size="5.9" text-anchor="end" font-weight="bold">300,000</text>
<line x1="282.3" y1="656.28" x2="285.5" y2="656.28" stroke="#1c1c1c" stroke-width="1"/>
<text x="281.5" y="658.37" font-size="5.9" text-anchor="end" font-weight="bold">200,000</text>
<line x1="282.3" y1="668.84" x2="285.5" y2="668.84" stroke="#1c1c1c" stroke-width="1"/>
<text x="281.5" y="670.93" font-size="5.9" text-anchor="end" font-weight="bold">100,000</text>
<line x1="282.3" y1="681.4" x2="285.5" y2="681.4" stroke="#1c1c1c" stroke-width="1"/>
<text x="281.5" y="683.49" font-size="5.9" text-anchor="end" font-weight="bold">0</text>
<line x1="285" y1="681.5" x2="321.5" y2="681.5" stroke="#1c1c1c" stroke-width="1"/>
<rect x="290.35" y="634.95" width="6.3" height="46.45" fill="#fff" stroke="#e8434b" stroke-width="1.3"/>
<rect x="300.85" y="633.95" width="6.4" height="47.45" fill="#fff" stroke="#9d66bd" stroke-width="1.3"/>
<rect x="312.75" y="648.64" width="6.5" height="32.76" fill="#fff" stroke="#111111" stroke-width="1.3"/>
<circle cx="291.5" cy="633.04" r="1.2" fill="#222"/>
<circle cx="293.5" cy="634.93" r="1.2" fill="#222"/>
<circle cx="295.5" cy="633.92" r="1.2" fill="#222"/>
<circle cx="302" cy="632.16" r="1.2" fill="#222"/>
<circle cx="304" cy="634.68" r="1.2" fill="#222"/>
<circle cx="306" cy="632.16" r="1.2" fill="#222"/>
<circle cx="303.2" cy="633.04" r="1.2" fill="#222"/>
<circle cx="314" cy="647.99" r="0.9" fill="#111"/>
<circle cx="316" cy="647.86" r="0.9" fill="#111"/>
<circle cx="318" cy="647.99" r="0.9" fill="#111"/>
<line x1="290.9" y1="618.5" x2="304" y2="618.5" stroke="#111" stroke-width="1"/>
<text x="297.45" y="617.12" font-size="7.4" text-anchor="middle" fill="#111" stroke="#111" stroke-width="0.1">ns</text>
<line x1="303" y1="627.5" x2="316.7" y2="627.5" stroke="#111" stroke-width="1"/>
<text x="309.85" y="628.06" font-size="7.8" text-anchor="middle" font-weight="bold" fill="#111" letter-spacing="0">****</text>
<text x="240.6" y="652.33" font-size="7.4" text-anchor="middle" stroke="#1a1a1a" stroke-width="0.1" transform="rotate(-90 240.6 649.7)">ATP</text>
<text x="251.2" y="652.33" font-size="7.4" text-anchor="middle" stroke="#1a1a1a" stroke-width="0.1" transform="rotate(-90 251.2 649.7)">(arbitrary unit)</text>
<line x1="265.5" y1="691.1" x2="273.4" y2="691.1" stroke="#e8434b" stroke-width="1.8"/>
<text x="274.8" y="693.59" font-size="7" stroke="#1a1a1a" stroke-width="0.1">IL12</text>
<line x1="265.5" y1="699.6" x2="273.4" y2="699.6" stroke="#9d66bd" stroke-width="1.8"/>
<text x="274.8" y="702.09" font-size="7" stroke="#1a1a1a" stroke-width="0.1">IL12+80%TCM</text>
<line x1="265.5" y1="708" x2="273.4" y2="708" stroke="#111111" stroke-width="1.8"/>
<text x="274.8" y="710.49" font-size="7" stroke="#1a1a1a" stroke-width="0.1">IL12+80%TCM+ORLI</text>
<text x="358.6" y="612" font-size="14" font-weight="bold" fill="#000">V</text>
<line x1="400.7" y1="621" x2="400.7" y2="688.1" stroke="#bdbdbd" stroke-width="0.8"/>
<line x1="419.4" y1="621" x2="419.4" y2="688.1" stroke="#bdbdbd" stroke-width="0.8"/>
<line x1="437.2" y1="621" x2="437.2" y2="688.1" stroke="#bdbdbd" stroke-width="0.8"/>
<line x1="456" y1="621" x2="456" y2="688.1" stroke="#bdbdbd" stroke-width="0.8"/>
<line x1="387.5" y1="621" x2="387.5" y2="688.1" stroke="#1c1c1c" stroke-width="1"/>
<line x1="385.5" y1="621" x2="387.5" y2="621" stroke="#1c1c1c" stroke-width="1"/>
<text x="384.7" y="623.13" font-size="6" text-anchor="end" font-weight="bold">600</text>
<line x1="385.5" y1="643.37" x2="387.5" y2="643.37" stroke="#1c1c1c" stroke-width="1"/>
<text x="384.7" y="645.5" font-size="6" text-anchor="end" font-weight="bold">400</text>
<line x1="385.5" y1="665.73" x2="387.5" y2="665.73" stroke="#1c1c1c" stroke-width="1"/>
<text x="384.7" y="667.86" font-size="6" text-anchor="end" font-weight="bold">200</text>
<line x1="385.5" y1="688.1" x2="387.5" y2="688.1" stroke="#1c1c1c" stroke-width="1"/>
<text x="384.7" y="690.23" font-size="6" text-anchor="end" font-weight="bold">0</text>
<line x1="387.1" y1="688.1" x2="487" y2="688.1" stroke="#1c1c1c" stroke-width="0.9"/>
<line x1="387.4" y1="688.1" x2="387.4" y2="690.2" stroke="#1c1c1c" stroke-width="0.8"/>
<line x1="420.4" y1="688.1" x2="420.4" y2="690.2" stroke="#1c1c1c" stroke-width="0.8"/>
<line x1="453.4" y1="688.1" x2="453.4" y2="690.2" stroke="#1c1c1c" stroke-width="0.8"/>
<line x1="486.4" y1="688.1" x2="486.4" y2="690.2" stroke="#1c1c1c" stroke-width="0.8"/>
<line x1="394" y1="688.1" x2="394" y2="689.3" stroke="#1c1c1c" stroke-width="0.6"/>
<line x1="400.6" y1="688.1" x2="400.6" y2="689.3" stroke="#1c1c1c" stroke-width="0.6"/>
<line x1="407.2" y1="688.1" x2="407.2" y2="689.3" stroke="#1c1c1c" stroke-width="0.6"/>
<line x1="413.8" y1="688.1" x2="413.8" y2="689.3" stroke="#1c1c1c" stroke-width="0.6"/>
<line x1="427" y1="688.1" x2="427" y2="689.3" stroke="#1c1c1c" stroke-width="0.6"/>
<line x1="433.6" y1="688.1" x2="433.6" y2="689.3" stroke="#1c1c1c" stroke-width="0.6"/>
<line x1="440.2" y1="688.1" x2="440.2" y2="689.3" stroke="#1c1c1c" stroke-width="0.6"/>
<line x1="446.8" y1="688.1" x2="446.8" y2="689.3" stroke="#1c1c1c" stroke-width="0.6"/>
<line x1="460" y1="688.1" x2="460" y2="689.3" stroke="#1c1c1c" stroke-width="0.6"/>
<line x1="466.6" y1="688.1" x2="466.6" y2="689.3" stroke="#1c1c1c" stroke-width="0.6"/>
<line x1="473.2" y1="688.1" x2="473.2" y2="689.3" stroke="#1c1c1c" stroke-width="0.6"/>
<line x1="479.8" y1="688.1" x2="479.8" y2="689.3" stroke="#1c1c1c" stroke-width="0.6"/>
<text x="387.9" y="696.73" font-size="6" text-anchor="middle" font-weight="bold">0</text>
<text x="420.8" y="696.73" font-size="6" text-anchor="middle" font-weight="bold">50</text>
<text x="453.4" y="696.73" font-size="6" text-anchor="middle" font-weight="bold">100</text>
<text x="486.4" y="696.73" font-size="6" text-anchor="middle" font-weight="bold">150</text>
<text x="437.7" y="706.46" font-size="7.5" text-anchor="middle" stroke="#1a1a1a" stroke-width="0.1">Time (min)</text>
<text x="365.8" y="658.07" font-size="7.25" text-anchor="middle" stroke="#1a1a1a" stroke-width="0.1" transform="rotate(-90 365.8 655.5)">OCR (pmol/min)</text>
<text x="390.3" y="611.09" font-size="5.9" stroke="#1a1a1a" stroke-width="0.1">Eto</text>
<text x="390.3" y="618.49" font-size="5.9" stroke="#1a1a1a" stroke-width="0.1">/Media</text>
<text x="412.6" y="618.42" font-size="5.7" stroke="#1a1a1a" stroke-width="0.1">Oligo</text>
<text x="428.7" y="618.39" font-size="5.6" stroke="#1a1a1a" stroke-width="0.1">FCCP</text>
<text x="448.4" y="618.42" font-size="5.7" stroke="#1a1a1a" stroke-width="0.1">Rot+Anti-A</text>
<polyline points="387.93,655.67 394,655.44 400.27,655.67 406.21,664.62 412.48,665.51 418.42,665.73 424.36,680.27 430.3,681.39 436.57,681.17 442.84,657.9 448.78,659.92 455.05,660.7 461.32,682.96 467.26,682.51 473.2,682.51" fill="none" stroke="#4a6a6a" stroke-width="0.8" opacity="1"/>
<polyline points="387.93,653.99 394,654.33 400.27,654.55 406.21,659.58 412.48,660.14 418.42,660.7 424.36,678.59 430.3,679.71 436.57,679.15 442.84,650.64 448.78,652.54 455.05,653.1 461.32,682.73 467.26,682.17 473.2,682.28" fill="none" stroke="#3a3a50" stroke-width="0.8" opacity="1"/>
<polyline points="387.93,654.55 394,653.99 400.27,654.21 406.21,654.33 412.48,654.21 418.42,654.44 424.36,675.8 430.3,676.36 436.57,675.8 442.84,631.96 448.78,632.74 455.05,633.3 461.32,682.28 467.26,681.95 473.2,681.95" fill="none" stroke="#e07a8a" stroke-width="0.9" opacity="1"/>
<line x1="387.93" y1="652.09" x2="387.93" y2="657.01" stroke="#c9919a" stroke-width="0.5"/>
<line x1="387.03" y1="652.09" x2="388.83" y2="652.09" stroke="#c9919a" stroke-width="0.5"/>
<line x1="387.03" y1="657.01" x2="388.83" y2="657.01" stroke="#c9919a" stroke-width="0.5"/>
<line x1="394" y1="651.53" x2="394" y2="656.45" stroke="#c9919a" stroke-width="0.5"/>
<line x1="393.1" y1="651.53" x2="394.9" y2="651.53" stroke="#c9919a" stroke-width="0.5"/>
<line x1="393.1" y1="656.45" x2="394.9" y2="656.45" stroke="#c9919a" stroke-width="0.5"/>
<line x1="400.27" y1="651.75" x2="400.27" y2="656.67" stroke="#c9919a" stroke-width="0.5"/>
<line x1="399.37" y1="651.75" x2="401.17" y2="651.75" stroke="#c9919a" stroke-width="0.5"/>
<line x1="399.37" y1="656.67" x2="401.17" y2="656.67" stroke="#c9919a" stroke-width="0.5"/>
<line x1="406.21" y1="651.87" x2="406.21" y2="656.79" stroke="#c9919a" stroke-width="0.5"/>
<line x1="405.31" y1="651.87" x2="407.11" y2="651.87" stroke="#c9919a" stroke-width="0.5"/>
<line x1="405.31" y1="656.79" x2="407.11" y2="656.79" stroke="#c9919a" stroke-width="0.5"/>
<line x1="412.48" y1="651.75" x2="412.48" y2="656.67" stroke="#c9919a" stroke-width="0.5"/>
<line x1="411.58" y1="651.75" x2="413.38" y2="651.75" stroke="#c9919a" stroke-width="0.5"/>
<line x1="411.58" y1="656.67" x2="413.38" y2="656.67" stroke="#c9919a" stroke-width="0.5"/>
<line x1="418.42" y1="651.98" x2="418.42" y2="656.9" stroke="#c9919a" stroke-width="0.5"/>
<line x1="417.52" y1="651.98" x2="419.32" y2="651.98" stroke="#c9919a" stroke-width="0.5"/>
<line x1="417.52" y1="656.9" x2="419.32" y2="656.9" stroke="#c9919a" stroke-width="0.5"/>
<line x1="424.36" y1="673.34" x2="424.36" y2="678.26" stroke="#c9919a" stroke-width="0.5"/>
<line x1="423.46" y1="673.34" x2="425.26" y2="673.34" stroke="#c9919a" stroke-width="0.5"/>
<line x1="423.46" y1="678.26" x2="425.26" y2="678.26" stroke="#c9919a" stroke-width="0.5"/>
<line x1="430.3" y1="673.9" x2="430.3" y2="678.82" stroke="#c9919a" stroke-width="0.5"/>
<line x1="429.4" y1="673.9" x2="431.2" y2="673.9" stroke="#c9919a" stroke-width="0.5"/>
<line x1="429.4" y1="678.82" x2="431.2" y2="678.82" stroke="#c9919a" stroke-width="0.5"/>
<line x1="436.57" y1="673.34" x2="436.57" y2="678.26" stroke="#c9919a" stroke-width="0.5"/>
<line x1="435.67" y1="673.34" x2="437.47" y2="673.34" stroke="#c9919a" stroke-width="0.5"/>
<line x1="435.67" y1="678.26" x2="437.47" y2="678.26" stroke="#c9919a" stroke-width="0.5"/>
<line x1="442.84" y1="627.53" x2="442.84" y2="636.39" stroke="#c9919a" stroke-width="0.5"/>
<line x1="441.94" y1="627.53" x2="443.74" y2="627.53" stroke="#c9919a" stroke-width="0.5"/>
<line x1="441.94" y1="636.39" x2="443.74" y2="636.39" stroke="#c9919a" stroke-width="0.5"/>
<line x1="448.78" y1="628.31" x2="448.78" y2="637.17" stroke="#c9919a" stroke-width="0.5"/>
<line x1="447.88" y1="628.31" x2="449.68" y2="628.31" stroke="#c9919a" stroke-width="0.5"/>
<line x1="447.88" y1="637.17" x2="449.68" y2="637.17" stroke="#c9919a" stroke-width="0.5"/>
<line x1="455.05" y1="628.87" x2="455.05" y2="637.73" stroke="#c9919a" stroke-width="0.5"/>
<line x1="454.15" y1="628.87" x2="455.95" y2="628.87" stroke="#c9919a" stroke-width="0.5"/>
<line x1="454.15" y1="637.73" x2="455.95" y2="637.73" stroke="#c9919a" stroke-width="0.5"/>
<line x1="461.32" y1="681.61" x2="461.32" y2="682.96" stroke="#c9919a" stroke-width="0.5"/>
<line x1="460.42" y1="681.61" x2="462.22" y2="681.61" stroke="#c9919a" stroke-width="0.5"/>
<line x1="460.42" y1="682.96" x2="462.22" y2="682.96" stroke="#c9919a" stroke-width="0.5"/>
<line x1="467.26" y1="681.28" x2="467.26" y2="682.62" stroke="#c9919a" stroke-width="0.5"/>
<line x1="466.36" y1="681.28" x2="468.16" y2="681.28" stroke="#c9919a" stroke-width="0.5"/>
<line x1="466.36" y1="682.62" x2="468.16" y2="682.62" stroke="#c9919a" stroke-width="0.5"/>
<line x1="473.2" y1="681.28" x2="473.2" y2="682.62" stroke="#c9919a" stroke-width="0.5"/>
<line x1="472.3" y1="681.28" x2="474.1" y2="681.28" stroke="#c9919a" stroke-width="0.5"/>
<line x1="472.3" y1="682.62" x2="474.1" y2="682.62" stroke="#c9919a" stroke-width="0.5"/>
<line x1="387.93" y1="651.53" x2="387.93" y2="656.45" stroke="#7a8aa6" stroke-width="0.5"/>
<line x1="387.03" y1="651.53" x2="388.83" y2="651.53" stroke="#7a8aa6" stroke-width="0.5"/>
<line x1="387.03" y1="656.45" x2="388.83" y2="656.45" stroke="#7a8aa6" stroke-width="0.5"/>
<line x1="394" y1="651.87" x2="394" y2="656.79" stroke="#7a8aa6" stroke-width="0.5"/>
<line x1="393.1" y1="651.87" x2="394.9" y2="651.87" stroke="#7a8aa6" stroke-width="0.5"/>
<line x1="393.1" y1="656.79" x2="394.9" y2="656.79" stroke="#7a8aa6" stroke-width="0.5"/>
<line x1="400.27" y1="652.09" x2="400.27" y2="657.01" stroke="#7a8aa6" stroke-width="0.5"/>
<line x1="399.37" y1="652.09" x2="401.17" y2="652.09" stroke="#7a8aa6" stroke-width="0.5"/>
<line x1="399.37" y1="657.01" x2="401.17" y2="657.01" stroke="#7a8aa6" stroke-width="0.5"/>
<line x1="406.21" y1="657.12" x2="406.21" y2="662.04" stroke="#7a8aa6" stroke-width="0.5"/>
<line x1="405.31" y1="657.12" x2="407.11" y2="657.12" stroke="#7a8aa6" stroke-width="0.5"/>
<line x1="405.31" y1="662.04" x2="407.11" y2="662.04" stroke="#7a8aa6" stroke-width="0.5"/>
<line x1="412.48" y1="657.68" x2="412.48" y2="662.6" stroke="#7a8aa6" stroke-width="0.5"/>
<line x1="411.58" y1="657.68" x2="413.38" y2="657.68" stroke="#7a8aa6" stroke-width="0.5"/>
<line x1="411.58" y1="662.6" x2="413.38" y2="662.6" stroke="#7a8aa6" stroke-width="0.5"/>
<line x1="418.42" y1="658.24" x2="418.42" y2="663.16" stroke="#7a8aa6" stroke-width="0.5"/>
<line x1="417.52" y1="658.24" x2="419.32" y2="658.24" stroke="#7a8aa6" stroke-width="0.5"/>
<line x1="417.52" y1="663.16" x2="419.32" y2="663.16" stroke="#7a8aa6" stroke-width="0.5"/>
<line x1="424.36" y1="676.13" x2="424.36" y2="681.05" stroke="#7a8aa6" stroke-width="0.5"/>
<line x1="423.46" y1="676.13" x2="425.26" y2="676.13" stroke="#7a8aa6" stroke-width="0.5"/>
<line x1="423.46" y1="681.05" x2="425.26" y2="681.05" stroke="#7a8aa6" stroke-width="0.5"/>
<line x1="430.3" y1="677.25" x2="430.3" y2="682.17" stroke="#7a8aa6" stroke-width="0.5"/>
<line x1="429.4" y1="677.25" x2="431.2" y2="677.25" stroke="#7a8aa6" stroke-width="0.5"/>
<line x1="429.4" y1="682.17" x2="431.2" y2="682.17" stroke="#7a8aa6" stroke-width="0.5"/>
<line x1="436.57" y1="676.69" x2="436.57" y2="681.61" stroke="#7a8aa6" stroke-width="0.5"/>
<line x1="435.67" y1="676.69" x2="437.47" y2="676.69" stroke="#7a8aa6" stroke-width="0.5"/>
<line x1="435.67" y1="681.61" x2="437.47" y2="681.61" stroke="#7a8aa6" stroke-width="0.5"/>
<line x1="442.84" y1="646.21" x2="442.84" y2="655.06" stroke="#7a8aa6" stroke-width="0.5"/>
<line x1="441.94" y1="646.21" x2="443.74" y2="646.21" stroke="#7a8aa6" stroke-width="0.5"/>
<line x1="441.94" y1="655.06" x2="443.74" y2="655.06" stroke="#7a8aa6" stroke-width="0.5"/>
<line x1="448.78" y1="648.11" x2="448.78" y2="656.97" stroke="#7a8aa6" stroke-width="0.5"/>
<line x1="447.88" y1="648.11" x2="449.68" y2="648.11" stroke="#7a8aa6" stroke-width="0.5"/>
<line x1="447.88" y1="656.97" x2="449.68" y2="656.97" stroke="#7a8aa6" stroke-width="0.5"/>
<line x1="455.05" y1="648.67" x2="455.05" y2="657.52" stroke="#7a8aa6" stroke-width="0.5"/>
<line x1="454.15" y1="648.67" x2="455.95" y2="648.67" stroke="#7a8aa6" stroke-width="0.5"/>
<line x1="454.15" y1="657.52" x2="455.95" y2="657.52" stroke="#7a8aa6" stroke-width="0.5"/>
<line x1="461.32" y1="682.06" x2="461.32" y2="683.4" stroke="#7a8aa6" stroke-width="0.5"/>
<line x1="460.42" y1="682.06" x2="462.22" y2="682.06" stroke="#7a8aa6" stroke-width="0.5"/>
<line x1="460.42" y1="683.4" x2="462.22" y2="683.4" stroke="#7a8aa6" stroke-width="0.5"/>
<line x1="467.26" y1="681.5" x2="467.26" y2="682.84" stroke="#7a8aa6" stroke-width="0.5"/>
<line x1="466.36" y1="681.5" x2="468.16" y2="681.5" stroke="#7a8aa6" stroke-width="0.5"/>
<line x1="466.36" y1="682.84" x2="468.16" y2="682.84" stroke="#7a8aa6" stroke-width="0.5"/>
<line x1="473.2" y1="681.61" x2="473.2" y2="682.96" stroke="#7a8aa6" stroke-width="0.5"/>
<line x1="472.3" y1="681.61" x2="474.1" y2="681.61" stroke="#7a8aa6" stroke-width="0.5"/>
<line x1="472.3" y1="682.96" x2="474.1" y2="682.96" stroke="#7a8aa6" stroke-width="0.5"/>
<line x1="387.93" y1="653.43" x2="387.93" y2="657.9" stroke="#8aa0a0" stroke-width="0.5"/>
<line x1="387.03" y1="653.43" x2="388.83" y2="653.43" stroke="#8aa0a0" stroke-width="0.5"/>
<line x1="387.03" y1="657.9" x2="388.83" y2="657.9" stroke="#8aa0a0" stroke-width="0.5"/>
<line x1="394" y1="653.21" x2="394" y2="657.68" stroke="#8aa0a0" stroke-width="0.5"/>
<line x1="393.1" y1="653.21" x2="394.9" y2="653.21" stroke="#8aa0a0" stroke-width="0.5"/>
<line x1="393.1" y1="657.68" x2="394.9" y2="657.68" stroke="#8aa0a0" stroke-width="0.5"/>
<line x1="400.27" y1="653.43" x2="400.27" y2="657.9" stroke="#8aa0a0" stroke-width="0.5"/>
<line x1="399.37" y1="653.43" x2="401.17" y2="653.43" stroke="#8aa0a0" stroke-width="0.5"/>
<line x1="399.37" y1="657.9" x2="401.17" y2="657.9" stroke="#8aa0a0" stroke-width="0.5"/>
<line x1="406.21" y1="662.38" x2="406.21" y2="666.85" stroke="#8aa0a0" stroke-width="0.5"/>
<line x1="405.31" y1="662.38" x2="407.11" y2="662.38" stroke="#8aa0a0" stroke-width="0.5"/>
<line x1="405.31" y1="666.85" x2="407.11" y2="666.85" stroke="#8aa0a0" stroke-width="0.5"/>
<line x1="412.48" y1="663.27" x2="412.48" y2="667.75" stroke="#8aa0a0" stroke-width="0.5"/>
<line x1="411.58" y1="663.27" x2="413.38" y2="663.27" stroke="#8aa0a0" stroke-width="0.5"/>
<line x1="411.58" y1="667.75" x2="413.38" y2="667.75" stroke="#8aa0a0" stroke-width="0.5"/>
<line x1="418.42" y1="663.5" x2="418.42" y2="667.97" stroke="#8aa0a0" stroke-width="0.5"/>
<line x1="417.52" y1="663.5" x2="419.32" y2="663.5" stroke="#8aa0a0" stroke-width="0.5"/>
<line x1="417.52" y1="667.97" x2="419.32" y2="667.97" stroke="#8aa0a0" stroke-width="0.5"/>
<line x1="424.36" y1="678.03" x2="424.36" y2="682.51" stroke="#8aa0a0" stroke-width="0.5"/>
<line x1="423.46" y1="678.03" x2="425.26" y2="678.03" stroke="#8aa0a0" stroke-width="0.5"/>
<line x1="423.46" y1="682.51" x2="425.26" y2="682.51" stroke="#8aa0a0" stroke-width="0.5"/>
<line x1="430.3" y1="680.72" x2="430.3" y2="682.06" stroke="#8aa0a0" stroke-width="0.5"/>
<line x1="429.4" y1="680.72" x2="431.2" y2="680.72" stroke="#8aa0a0" stroke-width="0.5"/>
<line x1="429.4" y1="682.06" x2="431.2" y2="682.06" stroke="#8aa0a0" stroke-width="0.5"/>
<line x1="436.57" y1="678.93" x2="436.57" y2="683.4" stroke="#8aa0a0" stroke-width="0.5"/>
<line x1="435.67" y1="678.93" x2="437.47" y2="678.93" stroke="#8aa0a0" stroke-width="0.5"/>
<line x1="435.67" y1="683.4" x2="437.47" y2="683.4" stroke="#8aa0a0" stroke-width="0.5"/>
<line x1="442.84" y1="653.88" x2="442.84" y2="661.93" stroke="#8aa0a0" stroke-width="0.5"/>
<line x1="441.94" y1="653.88" x2="443.74" y2="653.88" stroke="#8aa0a0" stroke-width="0.5"/>
<line x1="441.94" y1="661.93" x2="443.74" y2="661.93" stroke="#8aa0a0" stroke-width="0.5"/>
<line x1="448.78" y1="655.89" x2="448.78" y2="663.94" stroke="#8aa0a0" stroke-width="0.5"/>
<line x1="447.88" y1="655.89" x2="449.68" y2="655.89" stroke="#8aa0a0" stroke-width="0.5"/>
<line x1="447.88" y1="663.94" x2="449.68" y2="663.94" stroke="#8aa0a0" stroke-width="0.5"/>
<line x1="455.05" y1="656.67" x2="455.05" y2="664.73" stroke="#8aa0a0" stroke-width="0.5"/>
<line x1="454.15" y1="656.67" x2="455.95" y2="656.67" stroke="#8aa0a0" stroke-width="0.5"/>
<line x1="454.15" y1="664.73" x2="455.95" y2="664.73" stroke="#8aa0a0" stroke-width="0.5"/>
<line x1="461.32" y1="682.28" x2="461.32" y2="683.63" stroke="#8aa0a0" stroke-width="0.5"/>
<line x1="460.42" y1="682.28" x2="462.22" y2="682.28" stroke="#8aa0a0" stroke-width="0.5"/>
<line x1="460.42" y1="683.63" x2="462.22" y2="683.63" stroke="#8aa0a0" stroke-width="0.5"/>
<line x1="467.26" y1="681.84" x2="467.26" y2="683.18" stroke="#8aa0a0" stroke-width="0.5"/>
<line x1="466.36" y1="681.84" x2="468.16" y2="681.84" stroke="#8aa0a0" stroke-width="0.5"/>
<line x1="466.36" y1="683.18" x2="468.16" y2="683.18" stroke="#8aa0a0" stroke-width="0.5"/>
<line x1="473.2" y1="681.84" x2="473.2" y2="683.18" stroke="#8aa0a0" stroke-width="0.5"/>
<line x1="472.3" y1="681.84" x2="474.1" y2="681.84" stroke="#8aa0a0" stroke-width="0.5"/>
<line x1="472.3" y1="683.18" x2="474.1" y2="683.18" stroke="#8aa0a0" stroke-width="0.5"/>
<circle cx="387.93" cy="655.67" r="1.25" fill="#2b3d3d"/>
<circle cx="394" cy="655.44" r="1.25" fill="#2b3d3d"/>
<circle cx="400.27" cy="655.67" r="1.25" fill="#2b3d3d"/>
<circle cx="406.21" cy="664.62" r="1.25" fill="#2b3d3d"/>
<circle cx="412.48" cy="665.51" r="1.25" fill="#2b3d3d"/>
<circle cx="418.42" cy="665.73" r="1.25" fill="#2b3d3d"/>
<circle cx="424.36" cy="680.27" r="1.25" fill="#2b3d3d"/>
<circle cx="430.3" cy="681.39" r="1.25" fill="#2b3d3d"/>
<circle cx="436.57" cy="681.17" r="1.25" fill="#2b3d3d"/>
<circle cx="442.84" cy="657.9" r="1.25" fill="#2b3d3d"/>
<circle cx="448.78" cy="659.92" r="1.25" fill="#2b3d3d"/>
<circle cx="455.05" cy="660.7" r="1.25" fill="#2b3d3d"/>
<circle cx="461.32" cy="682.96" r="1.25" fill="#2b3d3d"/>
<circle cx="467.26" cy="682.51" r="1.25" fill="#2b3d3d"/>
<circle cx="473.2" cy="682.51" r="1.25" fill="#2b3d3d"/>
<circle cx="387.93" cy="653.99" r="1.25" fill="#1c1c2e"/>
<circle cx="394" cy="654.33" r="1.25" fill="#1c1c2e"/>
<circle cx="400.27" cy="654.55" r="1.25" fill="#1c1c2e"/>
<circle cx="406.21" cy="659.58" r="1.25" fill="#1c1c2e"/>
<circle cx="412.48" cy="660.14" r="1.25" fill="#1c1c2e"/>
<circle cx="418.42" cy="660.7" r="1.25" fill="#1c1c2e"/>
<circle cx="424.36" cy="678.59" r="1.25" fill="#1c1c2e"/>
<circle cx="430.3" cy="679.71" r="1.25" fill="#1c1c2e"/>
<circle cx="436.57" cy="679.15" r="1.25" fill="#1c1c2e"/>
<circle cx="442.84" cy="650.64" r="1.25" fill="#1c1c2e"/>
<circle cx="448.78" cy="652.54" r="1.25" fill="#1c1c2e"/>
<circle cx="455.05" cy="653.1" r="1.25" fill="#1c1c2e"/>
<circle cx="461.32" cy="682.73" r="1.25" fill="#1c1c2e"/>
<circle cx="467.26" cy="682.17" r="1.25" fill="#1c1c2e"/>
<circle cx="473.2" cy="682.28" r="1.25" fill="#1c1c2e"/>
<circle cx="387.93" cy="654.55" r="1.25" fill="#2a1a22"/>
<circle cx="394" cy="653.99" r="1.25" fill="#2a1a22"/>
<circle cx="400.27" cy="654.21" r="1.25" fill="#2a1a22"/>
<circle cx="406.21" cy="654.33" r="1.25" fill="#2a1a22"/>
<circle cx="412.48" cy="654.21" r="1.25" fill="#2a1a22"/>
<circle cx="418.42" cy="654.44" r="1.25" fill="#2a1a22"/>
<circle cx="424.36" cy="675.8" r="1.25" fill="#2a1a22"/>
<circle cx="430.3" cy="676.36" r="1.25" fill="#2a1a22"/>
<circle cx="436.57" cy="675.8" r="1.25" fill="#2a1a22"/>
<circle cx="442.84" cy="631.96" r="1.25" fill="#2a1a22"/>
<circle cx="448.78" cy="632.74" r="1.25" fill="#2a1a22"/>
<circle cx="455.05" cy="633.3" r="1.25" fill="#2a1a22"/>
<circle cx="461.32" cy="682.28" r="1.25" fill="#2a1a22"/>
<circle cx="467.26" cy="681.95" r="1.25" fill="#2a1a22"/>
<circle cx="473.2" cy="681.95" r="1.25" fill="#2a1a22"/>
<line x1="467.5" y1="636" x2="475" y2="636" stroke="#e07a8a" stroke-width="0.8"/>
<circle cx="471.2" cy="636" r="1.1" fill="#2a1a22"/>
<text x="478.5" y="637.92" font-size="5.4">IL12</text>
<line x1="467.5" y1="644.8" x2="475" y2="644.8" stroke="#3a3a50" stroke-width="0.8"/>
<circle cx="471.2" cy="644.8" r="1.1" fill="#1c1c2e"/>
<text x="478.5" y="646.72" font-size="5.4">IL12+5μm Eto</text>
<line x1="467.5" y1="654.4" x2="475" y2="654.4" stroke="#4a6a6a" stroke-width="0.8"/>
<circle cx="471.2" cy="654.4" r="1.1" fill="#2b3d3d"/>
<text x="478.5" y="656.32" font-size="5.4">IL12+10μm Eto</text>
</svg></body></html>
